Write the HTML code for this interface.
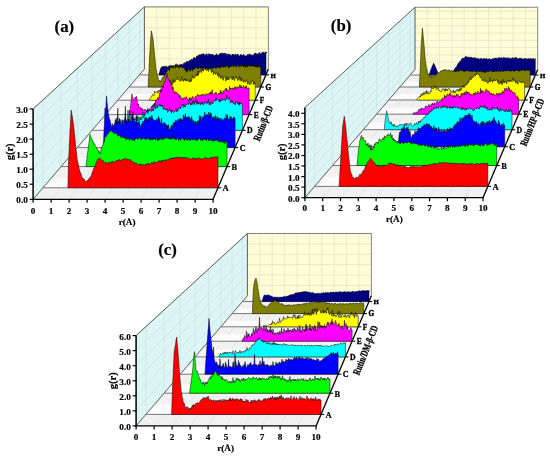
<!DOCTYPE html>
<html><head><meta charset="utf-8"><title>Radial distribution functions</title>
<style>
html,body{margin:0;padding:0;background:#fff;}
svg{display:block}
text{font-family:"Liberation Serif",serif;font-weight:bold;fill:#000;stroke:#000;stroke-width:0.18px}
.tk{font-size:9.2px}
.al{font-size:9.2px}
.zl{font-size:10.3px;stroke-width:0.3px}
.tt{font-size:16.8px}
</style></head><body>
<svg width="550" height="456" viewBox="0 0 550 456">
<rect width="550" height="456" fill="#fff"/>
<polygon points="33.1,199.3 33.1,109 144.4,6.9 144.4,69.1" fill="#ddf6f5"/>
<line x1="33.1" y1="184.2" x2="144.4" y2="58.8" stroke="#c6e2e4" stroke-width="0.7"/>
<line x1="33.1" y1="169.2" x2="144.4" y2="48.4" stroke="#c6e2e4" stroke-width="0.7"/>
<line x1="33.1" y1="154.2" x2="144.4" y2="38" stroke="#c6e2e4" stroke-width="0.7"/>
<line x1="33.1" y1="139.1" x2="144.4" y2="27.7" stroke="#c6e2e4" stroke-width="0.7"/>
<line x1="33.1" y1="124.1" x2="144.4" y2="17.3" stroke="#c6e2e4" stroke-width="0.7"/>
<line x1="33.1" y1="109" x2="144.4" y2="6.9" stroke="#c6e2e4" stroke-width="0.7"/>
<line x1="42.9" y1="187.8" x2="42.9" y2="100" stroke="#c6e2e4" stroke-width="0.7"/>
<line x1="61" y1="166.6" x2="61" y2="83.4" stroke="#c6e2e4" stroke-width="0.7"/>
<line x1="77.3" y1="147.6" x2="77.3" y2="68.4" stroke="#c6e2e4" stroke-width="0.7"/>
<line x1="92.1" y1="130.3" x2="92.1" y2="54.9" stroke="#c6e2e4" stroke-width="0.7"/>
<line x1="105.6" y1="114.6" x2="105.6" y2="42.5" stroke="#c6e2e4" stroke-width="0.7"/>
<line x1="117.9" y1="100.2" x2="117.9" y2="31.3" stroke="#c6e2e4" stroke-width="0.7"/>
<line x1="129.1" y1="87" x2="129.1" y2="20.9" stroke="#c6e2e4" stroke-width="0.7"/>
<line x1="139.5" y1="74.9" x2="139.5" y2="11.4" stroke="#c6e2e4" stroke-width="0.7"/>
<polygon points="144.4,69.1 144.4,6.9 268.4,6.9 268.4,69.1" fill="#fefdd8"/>
<line x1="144.4" y1="58.8" x2="268.4" y2="58.8" stroke="#e4e3bf" stroke-width="0.7"/>
<line x1="144.4" y1="48.4" x2="268.4" y2="48.4" stroke="#e4e3bf" stroke-width="0.7"/>
<line x1="144.4" y1="38" x2="268.4" y2="38" stroke="#e4e3bf" stroke-width="0.7"/>
<line x1="144.4" y1="27.7" x2="268.4" y2="27.7" stroke="#e4e3bf" stroke-width="0.7"/>
<line x1="144.4" y1="17.3" x2="268.4" y2="17.3" stroke="#e4e3bf" stroke-width="0.7"/>
<line x1="144.4" y1="6.9" x2="268.4" y2="6.9" stroke="#e4e3bf" stroke-width="0.7"/>
<line x1="156.8" y1="69.1" x2="156.8" y2="6.9" stroke="#e4e3bf" stroke-width="0.7"/>
<line x1="169.2" y1="69.1" x2="169.2" y2="6.9" stroke="#e4e3bf" stroke-width="0.7"/>
<line x1="181.6" y1="69.1" x2="181.6" y2="6.9" stroke="#e4e3bf" stroke-width="0.7"/>
<line x1="194" y1="69.1" x2="194" y2="6.9" stroke="#e4e3bf" stroke-width="0.7"/>
<line x1="206.4" y1="69.1" x2="206.4" y2="6.9" stroke="#e4e3bf" stroke-width="0.7"/>
<line x1="218.8" y1="69.1" x2="218.8" y2="6.9" stroke="#e4e3bf" stroke-width="0.7"/>
<line x1="231.2" y1="69.1" x2="231.2" y2="6.9" stroke="#e4e3bf" stroke-width="0.7"/>
<line x1="243.6" y1="69.1" x2="243.6" y2="6.9" stroke="#e4e3bf" stroke-width="0.7"/>
<line x1="256" y1="69.1" x2="256" y2="6.9" stroke="#e4e3bf" stroke-width="0.7"/>
<polygon points="33.1,199.3 144.4,69.1 268.4,69.1 213.1,199.3" fill="#f1f1f1"/>
<line x1="51.1" y1="199.3" x2="156.8" y2="69.1" stroke="#dedede" stroke-width="0.7"/>
<line x1="69.1" y1="199.3" x2="169.2" y2="69.1" stroke="#dedede" stroke-width="0.7"/>
<line x1="87.1" y1="199.3" x2="181.6" y2="69.1" stroke="#dedede" stroke-width="0.7"/>
<line x1="105.1" y1="199.3" x2="194" y2="69.1" stroke="#dedede" stroke-width="0.7"/>
<line x1="123.1" y1="199.3" x2="206.4" y2="69.1" stroke="#dedede" stroke-width="0.7"/>
<line x1="141.1" y1="199.3" x2="218.8" y2="69.1" stroke="#dedede" stroke-width="0.7"/>
<line x1="159.1" y1="199.3" x2="231.2" y2="69.1" stroke="#dedede" stroke-width="0.7"/>
<line x1="177.1" y1="199.3" x2="243.6" y2="69.1" stroke="#dedede" stroke-width="0.7"/>
<line x1="195.1" y1="199.3" x2="256" y2="69.1" stroke="#dedede" stroke-width="0.7"/>
<polygon points="42.9,187.8 218,187.8 222.2,178 51.3,178" fill="#fbfbfb"/>
<polygon points="61,166.6 227,166.6 230.7,157.8 68.6,157.8" fill="#fbfbfb"/>
<polygon points="77.3,147.6 235.1,147.6 238.5,139.6 84.2,139.6" fill="#fbfbfb"/>
<polygon points="92.1,130.3 242.4,130.3 245.5,123 98.3,123" fill="#fbfbfb"/>
<polygon points="105.6,114.6 249.1,114.6 251.9,107.9 111.2,107.9" fill="#fbfbfb"/>
<polygon points="117.9,100.2 255.2,100.2 257.8,94.1 123.1,94.1" fill="#fbfbfb"/>
<polygon points="129.1,87 260.8,87 263.2,81.4 133.9,81.4" fill="#fbfbfb"/>
<polygon points="139.5,74.9 266,74.9 268.2,69.7 143.9,69.7" fill="#fbfbfb"/>
<polygon points="33.1,199.3 33.1,109 144.4,6.9 144.4,69.1" fill="none" stroke="#333" stroke-width="0.8"/>
<polyline points="144.4,6.9 268.4,6.9 268.4,69.1" fill="none" stroke="#555" stroke-width="0.7"/>
<line x1="139.5" y1="74.9" x2="266" y2="74.9" stroke="#777" stroke-width="1"/>
<polygon points="159,74.9 159,74 159.5,72.3 160,71 160.5,68.6 161,67.8 161.5,67.3 162,66.6 162.5,67.4 162.9,66.3 163.4,67.1 163.9,66.2 164.4,66.1 164.9,66.8 165.4,67.6 165.8,65.9 166.3,66 166.8,66.9 167.3,67.6 167.8,66.7 168.3,66.2 168.8,67.6 169.3,65.3 169.8,67.2 170.3,65.8 170.8,65.5 171.3,65.4 171.9,65.8 172.4,67 172.9,65.4 173.4,66.4 173.9,66.5 174.4,65.8 174.9,66.2 175.4,65 175.9,65 176.4,65.3 176.9,66.3 177.4,65.5 177.9,65.1 178.4,65.5 178.9,65.1 179.4,64.5 179.9,65.5 180.4,65.1 180.9,63.9 181.5,64.5 182,64.2 182.5,64.9 183,64.4 183.5,63.2 184,64.7 184.5,62.4 185,63 185.5,63.6 186,61.8 186.5,62.3 187,60.9 187.5,62.1 188,62 188.5,61.3 189,61.7 189.5,60 190,60.6 190.5,60 191,59.7 191.5,59.1 192,59.8 192.5,59.8 193,58.5 193.5,58.7 193.9,57 194.4,58.3 194.9,57.9 195.4,58.5 195.9,57.8 196.4,56.3 196.9,56.3 197.4,56.8 197.9,55.1 198.5,55.9 199,55 199.5,54.7 200,54.3 200.5,55.8 201,54.1 201.5,54.2 202.1,54.3 202.6,55.3 203.1,53.2 203.6,53.9 204.1,54.2 204.6,55 205.1,54.9 205.6,55.1 206.1,53.7 206.6,54.1 207.1,54 207.6,55.4 208.1,55.6 208.7,53.7 209.2,53.8 209.7,54 210.2,54.1 210.7,54.7 211.2,55 211.7,54.3 212.2,53.8 212.7,54.8 213.2,54.6 213.7,55 214.2,55.9 214.7,55.2 215.2,54.8 215.7,54.9 216.2,55 216.7,53.5 217.2,55.5 217.8,55.1 218.3,55.3 218.8,55 219.3,54 219.8,54 220.3,53.2 220.8,54.4 221.3,53 221.8,53 222.3,53.4 222.8,53.3 223.3,53.8 223.8,53.1 224.4,53.1 224.9,53.5 225.4,53.4 225.9,54.1 226.4,53.4 226.9,55.5 227.4,54.9 227.9,53.8 228.4,54.1 229,54.4 229.5,54.5 230,54 230.5,55.8 231,56.2 231.5,54.9 232,55 232.5,54 233,54 233.5,54.6 234,54.4 234.5,55.8 235,54.2 235.5,53.9 236,56.1 236.5,55.1 237,54.2 237.5,55.1 238,53.9 238.5,55.1 239,56.1 239.5,55.9 240,55.5 240.5,54.4 241,54.7 241.5,54.2 242,55.7 242.5,55.1 243,55.7 243.5,54.6 244,54.3 244.5,55.7 245,56.2 245.5,55.8 246,55.7 246.5,55.8 247,55.6 247.5,54.3 248,55 248.5,54.7 249,53.9 249.5,53.9 250,54.5 250.5,54.3 251,55.3 251.5,55.8 252,54.5 252.5,55.5 253,55.6 253.5,55.4 254,53.9 254.5,53.4 255,53.3 255.5,53.2 256,53.1 256.5,54 257,54.6 257.5,54.3 258,53.4 258.5,53.7 259,53.9 259.5,52.1 260,53.4 260.5,53.9 261,53.5 261.5,53.4 262,52.6 262.5,51.8 263,53.2 263.6,52.1 264.1,53.1 264.6,53.4 265.1,52 265.6,51.9 266.1,53.1 266.6,52 266,52 266,74.9" fill="#000080" stroke="#000" stroke-width="0.5" stroke-linejoin="round"/>
<line x1="129.1" y1="87" x2="260.8" y2="87" stroke="#777" stroke-width="1"/>
<polygon points="148.2,87 148.2,86 148.6,77.7 149,69.3 149.4,61.1 149.8,52.9 150.2,46.3 150.6,39.7 151,35.3 151.4,30.9 152,33.5 152.5,36.6 153.1,39.8 153.5,43.7 154,48.4 154.4,53 154.9,58.3 155.5,63.8 156,69.1 156.5,70.4 156.9,72.8 157.4,75.5 157.9,76.8 158.3,79.2 158.8,80.2 159.4,80.3 159.9,81.4 160.4,80.8 161,81.7 161.5,80 162,78.7 162.6,77.6 163.1,76.8 163.6,76.8 164.1,77 164.7,74.7 165.2,74.7 165.7,72.1 166.2,70.4 166.8,72.4 167.3,69.1 167.8,68.8 168.4,69.4 168.9,68.9 169.4,70.9 169.9,67.1 170.5,68.2 171,66.5 171.5,67.3 172,66.6 172.5,68 173,65.6 173.5,68.4 173.9,65.6 174.4,65.3 174.9,65.2 175.4,68.6 175.9,63.8 176.4,67.1 176.9,63.8 177.4,64.7 177.9,67.8 178.4,65.8 178.9,65.9 179.3,67.6 179.8,68.2 180.3,66 180.8,66.9 181.3,65.9 181.8,67.8 182.3,67.9 182.8,67.7 183.3,67.2 183.8,67.4 184.3,68.6 184.8,69.5 185.3,69.5 185.8,71.3 186.3,70.2 186.8,72.3 187.3,71.8 187.8,71 188.3,69.5 188.8,68.7 189.4,69.1 189.9,71.4 190.4,70.7 190.9,69.1 191.4,68.9 191.9,69.1 192.4,71.3 193,68.9 193.5,69 194,68 194.5,69.4 195,68.5 195.5,67.7 196,67.8 196.5,67.1 197,68 197.5,68.6 198,68.8 198.5,69.2 199,67.6 199.5,67 200,66.9 200.5,68.7 201,68.4 201.5,67 202,67.9 202.5,68.6 203,68.2 203.5,68.5 204,67.3 204.5,66.8 205,68.3 205.5,68.5 206,67.3 206.5,68.9 207,68.5 207.5,67.6 208,67.7 208.5,68.2 209,69.6 209.5,68.3 210,68.9 210.5,68.7 211,67.3 211.6,68.8 212.1,68.4 212.6,67.8 213.1,68.6 213.6,67.7 214.1,68 214.6,67.3 215.1,67.4 215.6,68.3 216.2,68.5 216.7,67.7 217.2,67.2 217.7,67.2 218.2,67 218.7,67.6 219.2,67.6 219.7,68 220.2,68.4 220.7,65.7 221.2,67.3 221.7,66.5 222.2,66.9 222.8,66 223.3,66.7 223.8,67.7 224.3,66.5 224.8,66.8 225.3,67.2 225.8,66.7 226.3,64.2 226.8,66.2 227.3,66 227.8,66.2 228.3,68.1 228.8,67.6 229.3,67.9 229.8,66.8 230.3,65.3 230.9,66.4 231.4,67 231.9,65.2 232.4,65.4 232.9,66 233.4,67.1 233.9,65.7 234.4,65.8 234.9,65.7 235.4,65.4 235.9,66.2 236.4,67.4 237,65.7 237.5,64.9 238,64.9 238.5,65.4 239,67.2 239.5,65.8 240,66.1 240.5,65 241,66.6 241.5,66.4 242,65.1 242.5,65.2 243,65.8 243.5,67 244,63.4 244.5,67.2 245,65.6 245.5,67.3 246,67.1 246.5,65 247,66.1 247.5,67.3 248,66.4 248.5,65.9 249,64.6 249.5,65.2 250,66.4 250.5,64.9 251,66.5 251.5,64.1 252,66.4 252.5,65.4 253,64.8 253.5,66.2 254,66.8 254.5,66.3 255,65.7 255.5,67.1 256,65.1 256.5,67.1 257,65.9 257.5,68 258,65.3 258.5,66.5 259,65.9 259.5,67.6 260,66 260.5,66.4 261,67 260.8,67 260.8,87" fill="#808000" stroke="#000" stroke-width="0.5" stroke-linejoin="round"/>
<line x1="117.9" y1="100.2" x2="255.2" y2="100.2" stroke="#777" stroke-width="1"/>
<polygon points="149,100.2 149,100 149.5,99.4 150,99 150.5,97.3 151,96.8 151.5,97 152,95.2 152.5,94.3 153,94.6 153.5,95.9 154,96 154.5,91 155,93 155.5,92.8 156,92.3 156.5,91.9 157,92.2 157.5,91.1 158,93.3 158.5,90.4 159,91 159.5,90 160,91.7 160.5,92 161,88.5 161.5,91.9 162,91 162.5,89 163,91.1 163.5,87.9 164,87.8 164.5,86.1 165,89.4 165.5,88.6 166,86.9 166.5,88.4 167,85.3 167.5,85.8 168,84.2 168.5,86.1 169,85.8 169.5,83.7 170,83.4 170.5,80.3 171,82.3 171.5,83.4 172.1,84.8 172.6,84.5 173.1,79.5 173.6,82.8 174.1,80.7 174.6,81.9 175.1,82.2 175.6,79.7 176,79.8 176.5,79.8 177,78.9 177.5,76.8 178,79.8 178.5,79.2 179,79.7 179.5,81 180,80.8 180.5,81.2 181.1,81 181.6,76.4 182.1,80.6 182.6,79.8 183.1,80.2 183.6,81.6 184.1,79 184.6,80.2 185.1,78.6 185.6,81.1 186.1,78.8 186.5,80.8 187,79.6 187.5,80.8 188,80.5 188.5,81.1 189,81.8 189.5,79.8 190,82.2 190.5,80.4 191,79.5 191.5,81.5 192,78 192.5,75.7 193,78.3 193.5,77.9 194,77.8 194.5,77.9 195,77.4 195.5,76.1 196,74.7 196.5,75.7 197,73.5 197.5,75.8 198,70.7 198.5,75.5 199,71.2 199.5,72.1 200,72.5 200.5,70.4 201,70.4 201.5,72.7 202,68.9 202.5,70.9 203,69.1 203.5,71.3 204,68.3 204.5,69.1 205,68.2 205.5,69.7 206,68.9 206.5,70.2 207,70.7 207.5,68.6 208,70.3 208.5,71.6 209,69.5 209.5,68.3 210,69.4 210.5,69.8 211,69.7 211.5,72.8 212,70 212.5,71.6 213,70.8 213.5,74.7 213.9,71.8 214.4,73 214.9,73.2 215.4,74.6 215.9,72.7 216.4,73 216.9,72.7 217.4,75.9 217.9,75 218.4,72.9 218.9,77.6 219.3,75.8 219.8,74.6 220.3,77.3 220.8,78.7 221.3,77.7 221.8,75.9 222.3,78.4 222.8,79.4 223.3,80.4 223.8,77.7 224.3,76.4 224.8,76.6 225.3,77.7 225.8,81.2 226.3,79.9 226.8,76.7 227.3,80 227.8,79.5 228.3,77.7 228.8,80 229.4,77.7 229.9,77.9 230.4,77.9 230.9,76.6 231.4,77.6 231.9,79.5 232.4,80.1 233,76.1 233.5,79 234,79.3 234.5,80.6 235,77.6 235.5,76.7 236,78.4 236.5,76.9 237,76.8 237.5,80.6 238,79.7 238.5,79.9 239,77.9 239.5,76.3 240,80.8 240.5,77.5 241,81 241.5,81.2 242,78.5 242.5,78.5 243,81.9 243.5,82.5 244,80.1 244.5,81.1 245,81.7 245.5,82.4 246,80.7 246.5,79.9 247,80.9 247.5,84.2 248,81.4 248.5,81.5 249,84.2 249.5,83.3 250,84.6 250.5,84 251,84.2 251.5,83.6 252,80.2 252.5,80.8 253,80.9 253.5,84.8 254,81.2 254.5,83.8 255,83 255.2,83 255.2,100.2" fill="#ffff00" stroke="#000" stroke-width="0.5" stroke-linejoin="round"/>
<line x1="105.6" y1="114.6" x2="249.1" y2="114.6" stroke="#777" stroke-width="1"/>
<polygon points="129.6,114.6 129.6,114 130.2,108.8 130.8,103.9 131.4,99.4 131.9,93.8 132.4,97 133,98 133.5,100.1 134,100.7 134.5,99.9 135,97.2 135.5,97.9 136,96.7 136.5,96.3 137,98.9 137.5,103.1 138,105.1 138.5,103.9 139,106.5 139.5,107.5 140,107 140.5,107.4 141,107.7 141.5,110.1 142,108.2 142.5,110 143,109.4 143.5,110.2 144,110.3 144.5,109.1 145,109.7 145.5,109.4 146,111.2 146.5,110.9 147,110.1 147.5,110 148,108.3 148.5,111.3 149,109.6 149.5,108.7 150,109.1 150.5,109.3 151,107.5 151.5,106.3 152,107.6 152.5,105.3 153,107 153.5,104 154,106.5 154.5,103 155,104.3 155.5,100.7 156,101.3 156.5,99.8 157,99.2 157.5,98.4 158,97.2 158.5,99.8 159,97.4 159.6,93.6 160.1,90.8 160.6,90.1 161.1,92.4 161.7,89.7 162.2,86.5 162.7,86.5 163.2,87.6 163.6,84.6 164.1,82.4 164.5,82.5 165,81.4 165.5,80.4 166,78.1 166.5,75.5 167,73.4 167.5,77.5 168,78.1 168.5,78.4 169,80.6 169.5,81.9 170,80.4 170.5,84.4 171,83.9 171.5,82.9 172,84.7 172.5,89.4 173,86.9 173.5,89.9 174,90.9 174.5,93.2 175,92.1 175.5,91.7 176,92.8 176.4,92.2 176.9,92.8 177.4,93.1 177.9,94.4 178.4,94.5 178.9,94.4 179.4,97.4 179.9,95.2 180.3,95.9 180.8,97.9 181.3,97.8 181.8,97.9 182.3,99.5 182.8,98.5 183.3,99.3 183.8,97.6 184.3,97.2 184.8,98.2 185.3,98 185.8,98.1 186.3,96.6 186.8,98.5 187.3,98.8 187.8,99.2 188.3,99.9 188.8,100.8 189.3,97.6 189.8,100.6 190.2,97.7 190.7,99.4 191.2,100.5 191.7,97.6 192.2,97.7 192.7,96.2 193.2,97.6 193.7,98.5 194.2,98.5 194.7,98.7 195.2,96.3 195.7,97.3 196.2,96.7 196.7,96.9 197.2,94.5 197.7,94.6 198.2,94.7 198.7,95.9 199.2,95.3 199.7,95.5 200.1,96.1 200.6,94.9 201.1,95.6 201.6,94.3 202.1,95.6 202.6,94.2 203.1,94.7 203.6,94.5 204,94.9 204.5,95.6 205,94 205.5,94.1 206,93.7 206.5,95.1 207,95 207.6,93.8 208.1,93.7 208.6,94.2 209.1,93 209.6,92.8 210.1,94 210.6,91.8 211.2,94.8 211.7,91.7 212.2,89.6 212.7,93.6 213.2,94.3 213.7,93.7 214.2,93.9 214.7,93.8 215.2,92.5 215.7,93.5 216.2,92.2 216.7,94.8 217.2,94.4 217.7,95.1 218.2,94.2 218.7,93.1 219.2,93 219.7,94 220.2,91.8 220.7,89.9 221.1,93.3 221.6,91.9 222.1,93.1 222.6,94.3 223.1,90.8 223.6,91.2 224.1,90.3 224.6,90.4 225.1,90.1 225.6,88.5 226.1,90.1 226.5,88.1 227,91.3 227.5,89.8 228,90.8 228.5,91.3 229,91.2 229.5,86.3 230,89.7 230.5,88.2 231,88.2 231.5,89.1 232,87.7 232.5,88.1 233,88.9 233.5,87.9 234,89.7 234.5,88.2 235,86.3 235.5,88.5 236,87 236.5,89.2 237,87.7 237.5,86.9 238,86.6 238.5,87.3 239,87.9 239.5,84.8 240,86.2 240.5,87.7 241,85 241.5,87.8 242,87 242.5,88 243,87.5 243.5,85.2 244,86.5 244.5,88.5 245,87.4 245.5,86.5 246,88.2 246.5,85.6 247,88.5 247.5,87.9 248,89.1 248.5,87.8 249,88 249.1,88 249.1,114.6" fill="#ff00ff" stroke="#000" stroke-width="0.5" stroke-linejoin="round"/>
<line x1="92.1" y1="130.3" x2="242.4" y2="130.3" stroke="#777" stroke-width="1"/>
<polygon points="115.7,130.3 115.7,130 116.1,128.6 116.6,124.6 117,121 117.5,122.9 118,122 118.5,123.5 119,121 119.5,123.8 120,119.4 120.5,120.6 121,123.5 121.5,121.8 122,120.5 122.5,122.2 123,122.5 123.5,120.4 124,119.8 124.5,123.2 125,119.7 125.5,118 126,122.4 126.5,120.4 127,119.6 127.5,119.6 128,109.9 128.5,117 129,122.7 129.5,110.3 130,122.4 130.5,120.4 131,113.3 131.5,118.6 132,119.8 132.5,118.9 133,111.2 133.5,120.2 134,118.9 134.5,118.4 135,120.1 135.5,120 136,116.4 136.5,118.9 137,115.5 137.5,120.9 138,116.2 138.5,116.8 139,120.6 139.5,117.4 140,117.5 140.5,120 141,116.4 141.5,119.5 142,119 142.5,112.7 143,112 143.5,117.9 144,117.2 144.5,114.2 145,115.6 145.5,112.6 146,113 146.5,110.6 147,112.3 147.5,109.9 148,113.9 148.4,110.7 148.9,111.1 149.4,110.8 149.9,110.5 150.4,111 150.9,111.1 151.4,111.7 151.9,109.6 152.4,111.1 152.9,109.3 153.4,110.8 153.9,109.2 154.4,106.6 154.9,103.1 155.4,109.3 155.9,108.5 156.4,105.9 156.9,105.6 157.4,108 157.9,105 158.5,105.5 159,104.7 159.5,104.1 160,106.8 160.5,104.6 161,105.8 161.5,105 162.1,106.7 162.6,104.8 163.1,109.5 163.6,108.9 164.1,107.7 164.6,109.1 165.1,110 165.6,109 166.1,109 166.5,110 167,108.7 167.5,112.6 168,111.6 168.5,110.8 169,111.1 169.5,107.7 170,110.3 170.5,111.4 171,110 171.5,113.4 172,109.9 172.5,110.7 172.9,111.7 173.4,112.4 173.9,112 174.4,112 174.9,112 175.4,109.7 175.9,108.5 176.4,110.9 176.9,112.1 177.4,109.5 177.9,111.1 178.4,108.6 178.9,108.6 179.3,107.6 179.8,108.4 180.3,107.1 180.8,108.9 181.3,105.9 181.8,105.3 182.3,104 182.8,105.6 183.3,107.5 183.8,104.5 184.3,107.1 184.8,105.5 185.3,106.8 185.8,104.9 186.3,104.6 186.8,105 187.3,103.4 187.8,103.3 188.3,104.5 188.8,102 189.4,103.1 189.9,103.7 190.4,105.2 190.9,102.9 191.4,105.1 191.9,103 192.4,101.4 193,104.7 193.5,99.8 194,103.2 194.5,104.4 195,101.1 195.5,102.5 196,99.2 196.4,103 196.9,104.7 197.4,100.7 197.9,103.9 198.4,102.6 198.9,104.3 199.4,102 199.9,103.2 200.3,103.6 200.8,105.2 201.3,102.3 201.8,104 202.3,101.8 202.8,104.6 203.3,104.4 203.9,104.3 204.4,104.1 204.9,101.8 205.4,101.5 205.9,103.5 206.4,103 206.9,101.3 207.5,103.5 208,102.9 208.5,99.2 209,104.7 209.5,104.8 210,102.1 210.5,104.8 211,104.6 211.5,102.1 212,101.3 212.5,103.9 212.9,103.5 213.4,100.7 213.9,100.7 214.4,101 214.9,100.1 215.4,101.2 215.9,97.1 216.4,100.8 216.9,100 217.4,98 217.9,98.3 218.4,99.4 218.9,101 219.3,102.3 219.8,99.4 220.3,101.7 220.8,99.6 221.3,100.6 221.8,98.1 222.3,99.4 222.8,100.7 223.3,99.2 223.8,98.9 224.3,98.5 224.8,100.1 225.3,101 225.8,100.4 226.3,98.9 226.8,95.2 227.3,98.7 227.8,98.1 228.4,99.5 228.9,98.5 229.4,97.2 229.9,99.9 230.5,102.8 231,103 231.5,100.1 232,99.9 232.5,102.8 233,101.9 233.5,103.4 234,104.2 234.5,103.2 235,104.9 235.5,104 236,101 236.5,102 237,101.6 237.5,104 238,102.8 238.4,104.8 238.9,102 239.4,105.4 239.9,102.5 240.4,104.2 240.9,103 241.4,103.5 241.9,103.7 242.4,105 242.4,105 242.4,130.3" fill="#00ffff" stroke="#000" stroke-width="0.5" stroke-linejoin="round"/>
<line x1="77.3" y1="147.6" x2="235.1" y2="147.6" stroke="#777" stroke-width="1"/>
<polygon points="103.4,147.6 103.4,147 103.9,134.1 104.5,120.7 105,107.9 105.7,112.2 106.1,104.6 106.5,95.9 107,101.6 107.5,106.6 108,111.1 108.5,115 109,116.7 109.4,119.3 109.9,119.3 110.4,122.1 110.9,123.8 111.5,126.1 112,128.8 112.5,123.6 113,126.8 113.5,125.6 114,125.8 114.5,123.6 114.9,122.6 115.4,119.5 115.9,124.1 116.4,118 116.8,121.3 117.3,121.5 117.8,108.2 118.3,123.7 118.8,123.8 119.3,118.3 119.8,119.6 120.3,122.2 120.9,124.2 121.4,124.6 121.9,123.3 122.4,119.6 122.9,124.6 123.4,125.2 123.9,121.1 124.4,120.5 124.9,117.3 125.4,106.3 126,123.7 126.5,120.6 127,121.1 127.5,122.1 128,119.3 128.5,121.5 129,119.3 129.5,123.9 130,124.1 130.5,121 131,121.1 131.5,122.2 132,116.5 132.5,114.5 133,122 133.5,122.8 134,117.7 134.5,121 135,121 135.5,122.8 136,121.6 136.5,115.7 137,125 137.5,121.8 138,122.6 138.5,123.3 139,120.4 139.5,123.2 140,125.2 140.5,127.2 141,125.5 141.5,123.6 142,125.6 142.5,122.7 143,120.9 143.5,121.9 144,121.5 144.5,120.4 145,117.4 145.5,120.7 146,117.1 146.5,121.5 147,118.2 147.5,119.9 148,121.6 148.4,117.6 148.9,118.7 149.4,118.4 149.9,116.5 150.4,119.1 150.9,116.7 151.4,116.9 151.9,115.3 152.4,118.1 152.9,119.3 153.4,119.4 153.9,120.7 154.4,119.9 154.9,120.7 155.4,120.4 155.9,120.7 156.4,119.5 156.9,118.5 157.4,122.2 157.9,119.4 158.5,116.2 159,120.5 159.5,118.3 160,122.1 160.5,123.5 161,123.7 161.5,118 162,124.8 162.5,124.1 163,123.2 163.5,125.5 164,122.2 164.5,123.2 165,123.3 165.5,123.6 166,127.3 166.5,124.6 167,128.8 167.5,125 168,129.4 168.5,124.4 169,130.4 169.5,129.2 170.1,129.3 170.6,127.4 171.1,125.3 171.6,125.1 172.2,126.3 172.7,127.3 173.2,122.5 173.8,125.5 174.3,122.2 174.8,124.6 175.3,120.2 175.9,120.2 176.4,120.6 176.9,121.2 177.4,121.3 177.9,119.5 178.4,119 178.9,121.2 179.3,118.8 179.8,121.8 180.3,118.2 180.8,121.1 181.3,118.7 181.8,119.9 182.3,120.9 182.8,119.6 183.3,114.8 183.8,115.2 184.3,116.9 184.8,119.3 185.3,113.6 185.8,116.7 186.3,117.9 186.8,117 187.3,117.5 187.8,117.3 188.3,116.2 188.8,118.1 189.3,116.8 189.8,118.8 190.2,121.6 190.7,118.5 191.2,119 191.7,116.4 192.2,121.4 192.7,121.3 193.2,119.6 193.8,123.3 194.3,123.1 194.8,121.1 195.3,122.4 195.9,121.1 196.4,123.5 196.9,123.1 197.4,121 197.9,121.4 198.4,120.4 198.9,123.8 199.3,115.3 199.8,118.4 200.3,118.8 200.8,115.7 201.3,117.9 201.8,121.5 202.3,121 202.8,116.6 203.3,119.9 203.8,116 204.3,116.6 204.8,112.1 205.3,116.4 205.8,115.1 206.3,114.9 206.8,114.8 207.3,114.3 207.8,114.8 208.3,116.1 208.8,112 209.3,118.1 209.8,114.3 210.2,112.5 210.7,116.1 211.2,113.4 211.7,117.4 212.2,117 212.7,119.1 213.2,118 213.7,116.3 214.2,119.6 214.7,116.9 215.2,115.9 215.7,115.4 216.2,120 216.7,118.6 217.2,116.6 217.7,120.1 218.2,118.1 218.7,117.8 219.2,119 219.7,118.4 220.2,120.6 220.7,119.5 221.1,117.8 221.6,120.3 222.1,120.3 222.6,119.5 223.1,120.3 223.6,120.1 224.1,118.1 224.6,118.2 225.1,119.1 225.6,119.3 226.1,114.4 226.5,119.1 227,119.1 227.5,114.6 228,118.6 228.5,120.3 229,119 229.5,120.2 230,115.9 230.5,116.7 231,120.1 231.5,116.9 232,121 232.5,118.4 233,120 233.5,116.9 234,118 234.5,117.3 235,118.6 235.1,118.6 235.1,147.6" fill="#0000ff" stroke="#000" stroke-width="0.5" stroke-linejoin="round"/>
<line x1="61" y1="166.6" x2="227" y2="166.6" stroke="#777" stroke-width="1"/>
<polygon points="86,166.6 86,166 86.5,162 87,158 87.5,154 88,150 88.5,146.1 89,142.6 89.5,139 90,134.6 90.5,136 91,136.9 91.5,138.6 92,139.2 92.5,140.8 93,141 93.5,143.5 94,144.5 94.5,143.5 95,145.1 95.5,146.2 96,146.8 96.5,147.6 97,149.5 97.5,149.2 98,149.8 98.5,151 99,152.5 99.5,151.6 100,154.2 100.5,152.9 101,149.7 101.5,147 102,147 102.5,147 103,143.3 103.5,142.8 104,142.8 104.5,140.2 105,136.4 105.5,136.5 106,135.8 106.5,136.6 107,134.7 107.5,132.5 108,134.1 108.5,133.7 109,130.7 109.5,131.7 110,131.6 110.5,131 111,130.3 111.5,131 112,131.7 112.5,132.2 113,131.8 113.5,132.2 114,133.7 114.5,133.2 115,133.5 115.5,132.9 116,133.4 116.5,133.5 117,134.1 117.5,135.5 118,135.7 118.5,136.4 119,135.2 119.5,135.3 120.1,135.5 120.6,137.6 121.1,136.7 121.6,136.4 122.1,137.8 122.6,136.7 123.1,137.1 123.6,138.2 124.2,136.8 124.7,137.9 125.2,137.5 125.7,140.2 126.2,137.4 126.7,139.3 127.2,138.3 127.8,139.7 128.3,138.2 128.8,137.9 129.3,140.6 129.8,139.3 130.3,138.8 130.8,139.3 131.3,138.1 131.9,140.5 132.4,139.3 132.9,138.8 133.4,140.5 133.9,139.7 134.4,140.8 134.9,140.6 135.4,137.9 135.9,139 136.4,138.5 136.9,137.5 137.5,137.8 138,139.8 138.5,137.9 139,137.6 139.5,137.6 140,138.2 140.5,138.8 141,139.8 141.5,139.6 142,138.4 142.5,139 143,138 143.5,137.8 144,138.9 144.5,138 145,137.7 145.5,140.1 146,138.6 146.5,139.1 147,139.4 147.5,138.4 148,138.2 148.5,137.9 149,139.4 149.5,139.6 150,138.7 150.5,140.4 151,138.2 151.5,139.8 152,138.1 152.5,140.1 153,139 153.5,139.4 154,138 154.5,139.2 155,138.3 155.5,140.2 156,138.5 156.5,138.1 157,139 157.5,141 158,139.4 158.5,140.2 159,140.1 159.5,138.3 160,140.1 160.5,137.8 161,136.8 161.5,139.3 162,137.6 162.5,139.9 163,139.2 163.5,139.3 164,138.1 164.5,139.1 165,137.5 165.5,138.1 166,136.7 166.5,138.7 167,138.7 167.5,136.9 168,137.1 168.5,139.1 169,138.6 169.5,138.9 170,138.7 170.5,139.2 171,137 171.5,139.4 172,138.7 172.5,138.5 173,135.7 173.5,138.4 174,138.6 174.5,137.9 175,139.9 175.5,137.8 176,139.6 176.5,139.5 177,137.9 177.5,137.7 178,138.2 178.5,140.5 179,138.3 179.5,139.5 180,138.9 180.5,140.6 181,139.3 181.5,138.3 182,136.2 182.5,139.2 183,138.6 183.5,138.2 184,140.5 184.5,139.1 185,140.7 185.5,138.2 186,139.3 186.5,139.1 187,139.9 187.5,139.6 188,140.7 188.5,139.1 189,138.2 189.5,140.1 190,139.3 190.5,140.7 191,139.7 191.5,138.4 192,139.7 192.5,139.1 193,140.2 193.5,138.8 194,138.9 194.5,139.3 195,139.9 195.5,140 196,140.9 196.5,140.1 197,138.5 197.5,140.5 198,138.2 198.5,139.4 199,138.5 199.6,138.2 200.1,139.1 200.6,140.4 201.1,140.3 201.6,138.9 202.1,139.2 202.6,140.9 203.1,138.6 203.6,139.4 204.1,139.9 204.6,137.7 205.1,139.5 205.6,140.1 206.1,139 206.6,140.9 207.1,139.1 207.6,139 208,138.4 208.5,140 209,141.1 209.5,138.2 210,140.6 210.5,139.6 211,138.8 211.5,140.4 212,140.4 212.5,140.9 213,141.5 213.5,139.7 214,141.2 214.4,139.4 214.9,140.5 215.4,141 215.9,139.5 216.4,139.3 216.9,140.7 217.4,141.3 217.9,140.6 218.4,140.2 218.9,141.8 219.4,140 219.8,141.9 220.3,142.4 220.8,142 221.3,141.8 221.8,140.3 222.3,142.2 222.8,140 223.4,142.9 223.9,141.2 224.4,141 224.9,143.8 225.4,142.1 226,141.4 226.5,141.3 227,143 227,143 227,166.6" fill="#00ff00" stroke="#000" stroke-width="0.5" stroke-linejoin="round"/>
<line x1="42.9" y1="187.8" x2="218" y2="187.8" stroke="#777" stroke-width="1"/>
<polygon points="67.9,187.8 67.9,187.5 68.5,162.5 69,152 69.5,141.5 70,131 70.6,120.8 71.2,110.1 71.7,113.4 72.2,115.6 72.7,118.5 73.2,123 73.7,126.7 74.2,130.7 74.7,136.8 75.3,141.8 75.8,148.6 76.4,151.6 76.9,156.9 77.5,161 78,163.1 78.5,164.7 79.1,168.7 79.6,169.9 80.1,172 80.6,173.1 81,173.7 81.5,176 82,177.4 82.5,177.8 83.1,178.1 83.6,178.9 84.1,179.7 84.7,179.6 85.2,181.5 85.7,181.7 86.2,181.2 86.8,181.4 87.3,180.1 87.8,181.2 88.3,179.4 88.8,179.3 89.4,177.8 89.9,177.5 90.4,177.1 91,176.3 91.5,174.9 92,173.3 92.5,171.6 93,170.7 93.6,169 94.1,167.5 94.6,167.2 95.1,165.5 95.6,164.1 96.2,162.5 96.7,162.2 97.2,160 97.7,158.9 98.2,159 98.8,158.7 99.3,158.7 99.8,157.8 100.3,158.9 100.9,159.5 101.4,159.8 101.9,160.5 102.5,159.9 103,160.9 103.5,160.8 104,162.7 104.5,162.7 105,162.8 105.5,162.3 106,162.7 106.5,162.6 107,163.8 107.5,164.3 108,162.8 108.5,162.2 109,162.3 109.5,162.5 110,163.4 110.5,163.1 111,162.3 111.5,161.5 112,161.3 112.5,161.3 113,162.4 113.5,161.6 114,162.5 114.5,162.2 115,161.9 115.5,161.1 116,161.6 116.5,160.2 117,160 117.5,160.7 118,160.5 118.5,159.8 119,159.8 119.5,159.2 120,160.8 120.5,160.3 121,160.6 121.5,160.6 122,159.4 122.5,159.8 123,159 123.5,159.7 124,159.7 124.5,158.4 125,158.2 125.5,158.7 126,159.5 126.5,159.2 127,158.5 127.5,160.2 128,160.2 128.5,159.7 129,158.9 129.5,160.7 130,160.1 130.5,159.5 131,160.3 131.5,161.2 132,162.1 132.5,161.6 133,162.3 133.5,161.8 134,162.2 134.5,163.8 135,163.1 135.5,162.9 136,164.2 136.5,163.3 137,163.5 137.5,164.1 138,164.4 138.5,164.6 139,164.8 139.5,164.3 140,163.7 140.5,165 141,163.8 141.5,164.6 142,164.6 142.5,165.1 143,165.3 143.5,164.4 144,165.3 144.5,165.2 145,164.7 145.5,163.9 146,165.3 146.5,164.6 147,163.4 147.5,163.6 148,164.9 148.5,163.3 149,163.5 149.5,164.2 150,164.1 150.5,163.6 151,163.7 151.5,162.2 152,162.2 152.5,163.8 153,163.4 153.5,161.8 154,161.7 154.5,162 155,163.2 155.5,161.8 156,162.5 156.5,162.9 157,162.3 157.5,162.7 158,161.3 158.5,161 159,160.7 159.5,162 160,160.6 160.5,162.2 161,161.6 161.5,160.5 162,161.6 162.5,160.2 163,160.8 163.5,159.9 164,161.1 164.5,161.1 165,161.1 165.5,159.2 166,160.7 166.5,160 167,160.4 167.5,159.6 168,159.7 168.5,159.6 169,159.8 169.5,158.3 170,158.1 170.5,159 171,158.4 171.5,158.5 172,157.7 172.5,159 173,157.5 173.5,159 174,158.9 174.5,158.1 175,157.3 175.5,158.3 176,157.3 176.5,157.6 177,156.9 177.5,158.5 178,157.6 178.5,157.2 179,156.8 179.5,158 180,158.3 180.5,158.3 181,156.9 181.5,157.5 182,157.4 182.5,158.3 183,157.1 183.5,158.1 184,158.8 184.5,158.4 185,157 185.5,157.1 186,157.2 186.5,158.4 187,158.3 187.5,158.1 188,158 188.5,158 189,158.4 189.5,158.5 190,159.1 190.5,158.7 191,158.9 191.5,159.1 192,159 192.5,158.8 193,157.5 193.5,158.8 194,159.2 194.5,158.4 195,159.3 195.5,157.9 196,159.5 196.5,158.5 197,159 197.5,158.1 198,158.1 198.5,158.2 199,158.1 199.5,157.7 200,158.3 200.5,159.3 201,158.7 201.5,159.2 202,158.9 202.5,159 203,159.3 203.5,158.8 204,157.8 204.5,157.7 205,158 205.5,157.3 206,157.6 206.5,158.9 207,158.9 207.5,157.8 208,158.6 208.5,158.6 209,158.8 209.5,158.6 210,158.1 210.5,157.1 211,158.5 211.5,157.4 212,157.9 212.5,157.3 213,157.5 213.5,158.3 214,156.6 214.5,157.3 215,157.4 215.5,157.1 216,157.8 216.5,156.7 217,157.6 217.5,157.1 218,156.6 218,156.6 218,187.8" fill="#ff0000" stroke="#000" stroke-width="0.5" stroke-linejoin="round"/>
<line x1="33.1" y1="199.9" x2="33.1" y2="109" stroke="#000" stroke-width="1.3"/>
<line x1="29.6" y1="199.3" x2="33.1" y2="199.3" stroke="#000" stroke-width="1.2"/>
<text x="27.8" y="203.2" text-anchor="end" class="tk">0.0</text>
<line x1="29.6" y1="184.2" x2="33.1" y2="184.2" stroke="#000" stroke-width="1.2"/>
<text x="27.8" y="188.2" text-anchor="end" class="tk">0.5</text>
<line x1="29.6" y1="169.2" x2="33.1" y2="169.2" stroke="#000" stroke-width="1.2"/>
<text x="27.8" y="173.1" text-anchor="end" class="tk">1.0</text>
<line x1="29.6" y1="154.2" x2="33.1" y2="154.2" stroke="#000" stroke-width="1.2"/>
<text x="27.8" y="158.1" text-anchor="end" class="tk">1.5</text>
<line x1="29.6" y1="139.1" x2="33.1" y2="139.1" stroke="#000" stroke-width="1.2"/>
<text x="27.8" y="143" text-anchor="end" class="tk">2.0</text>
<line x1="29.6" y1="124.1" x2="33.1" y2="124.1" stroke="#000" stroke-width="1.2"/>
<text x="27.8" y="128" text-anchor="end" class="tk">2.5</text>
<line x1="29.6" y1="109" x2="33.1" y2="109" stroke="#000" stroke-width="1.2"/>
<text x="27.8" y="112.9" text-anchor="end" class="tk">3.0</text>
<line x1="32.5" y1="199.3" x2="213.7" y2="199.3" stroke="#000" stroke-width="1.3"/>
<line x1="33.1" y1="199.3" x2="33.1" y2="202.8" stroke="#000" stroke-width="1.2"/>
<text x="33.1" y="213.8" text-anchor="middle" class="tk">0</text>
<line x1="51.1" y1="199.3" x2="51.1" y2="202.8" stroke="#000" stroke-width="1.2"/>
<text x="51.1" y="213.8" text-anchor="middle" class="tk">1</text>
<line x1="69.1" y1="199.3" x2="69.1" y2="202.8" stroke="#000" stroke-width="1.2"/>
<text x="69.1" y="213.8" text-anchor="middle" class="tk">2</text>
<line x1="87.1" y1="199.3" x2="87.1" y2="202.8" stroke="#000" stroke-width="1.2"/>
<text x="87.1" y="213.8" text-anchor="middle" class="tk">3</text>
<line x1="105.1" y1="199.3" x2="105.1" y2="202.8" stroke="#000" stroke-width="1.2"/>
<text x="105.1" y="213.8" text-anchor="middle" class="tk">4</text>
<line x1="123.1" y1="199.3" x2="123.1" y2="202.8" stroke="#000" stroke-width="1.2"/>
<text x="123.1" y="213.8" text-anchor="middle" class="tk">5</text>
<line x1="141.1" y1="199.3" x2="141.1" y2="202.8" stroke="#000" stroke-width="1.2"/>
<text x="141.1" y="213.8" text-anchor="middle" class="tk">6</text>
<line x1="159.1" y1="199.3" x2="159.1" y2="202.8" stroke="#000" stroke-width="1.2"/>
<text x="159.1" y="213.8" text-anchor="middle" class="tk">7</text>
<line x1="177.1" y1="199.3" x2="177.1" y2="202.8" stroke="#000" stroke-width="1.2"/>
<text x="177.1" y="213.8" text-anchor="middle" class="tk">8</text>
<line x1="195.1" y1="199.3" x2="195.1" y2="202.8" stroke="#000" stroke-width="1.2"/>
<text x="195.1" y="213.8" text-anchor="middle" class="tk">9</text>
<line x1="213.1" y1="199.3" x2="213.1" y2="202.8" stroke="#000" stroke-width="1.2"/>
<text x="213.1" y="213.8" text-anchor="middle" class="tk">10</text>
<line x1="213.1" y1="199.3" x2="268.4" y2="69.1" stroke="#000" stroke-width="1.3"/>
<line x1="218" y1="187.8" x2="221.2" y2="187.8" stroke="#000" stroke-width="1.1"/>
<text x="222.6" y="191.2" class="tk" style="font-size:8.6px;stroke-width:0.2px">A</text>
<line x1="227" y1="166.6" x2="230.2" y2="166.6" stroke="#000" stroke-width="1.1"/>
<text x="231.6" y="169.9" class="tk" style="font-size:8.4px;stroke-width:0.2px">B</text>
<line x1="235.1" y1="147.6" x2="238.3" y2="147.6" stroke="#000" stroke-width="1.1"/>
<text x="239.7" y="150.8" class="tk" style="font-size:8.2px;stroke-width:0.3px">C</text>
<line x1="242.4" y1="130.3" x2="245.6" y2="130.3" stroke="#000" stroke-width="1.1"/>
<text x="247" y="133.4" class="tk" style="font-size:7.8px;stroke-width:0.3px">D</text>
<line x1="249.1" y1="114.6" x2="252.3" y2="114.6" stroke="#000" stroke-width="1.1"/>
<text x="253.7" y="117.6" class="tk" style="font-size:7.6px;stroke-width:0.3px">E</text>
<line x1="255.2" y1="100.2" x2="258.4" y2="100.2" stroke="#000" stroke-width="1.1"/>
<text x="259.8" y="103.1" class="tk" style="font-size:7.4px;stroke-width:0.3px">F</text>
<line x1="260.8" y1="87" x2="264" y2="87" stroke="#000" stroke-width="1.1"/>
<text x="265.4" y="89.8" class="tk" style="font-size:7.2px;stroke-width:0.4px">G</text>
<line x1="266" y1="74.9" x2="269.2" y2="74.9" stroke="#000" stroke-width="1.1"/>
<text x="270.6" y="77.6" class="tk" style="font-size:6.8px;stroke-width:0.4px">H</text>
<text transform="translate(12.6,151.9) rotate(-90)" text-anchor="middle" class="al" style="font-size:10.5px">g(r)</text>
<text x="127.1" y="224.5" text-anchor="middle" class="al">r(Å)</text>
<text transform="translate(266.4,124.5) rotate(-68.5) scale(0.72,1)" text-anchor="middle" class="zl">Rutin/β-CD</text>
<text x="64.4" y="32.2" text-anchor="middle" class="tt">(a)</text>
<polygon points="304.9,197.7 304.9,107.5 415,7.3 415,69.4" fill="#ddf6f5"/>
<line x1="304.9" y1="187.1" x2="415" y2="62.1" stroke="#c6e2e4" stroke-width="0.7"/>
<line x1="304.9" y1="176.6" x2="415" y2="54.9" stroke="#c6e2e4" stroke-width="0.7"/>
<line x1="304.9" y1="166" x2="415" y2="47.6" stroke="#c6e2e4" stroke-width="0.7"/>
<line x1="304.9" y1="155.5" x2="415" y2="40.3" stroke="#c6e2e4" stroke-width="0.7"/>
<line x1="304.9" y1="144.9" x2="415" y2="33.1" stroke="#c6e2e4" stroke-width="0.7"/>
<line x1="304.9" y1="134.4" x2="415" y2="25.8" stroke="#c6e2e4" stroke-width="0.7"/>
<line x1="304.9" y1="123.8" x2="415" y2="18.5" stroke="#c6e2e4" stroke-width="0.7"/>
<line x1="304.9" y1="113.3" x2="415" y2="11.2" stroke="#c6e2e4" stroke-width="0.7"/>
<line x1="314.6" y1="186.4" x2="314.6" y2="98.7" stroke="#c6e2e4" stroke-width="0.7"/>
<line x1="332.5" y1="165.5" x2="332.5" y2="82.3" stroke="#c6e2e4" stroke-width="0.7"/>
<line x1="348.7" y1="146.7" x2="348.7" y2="67.7" stroke="#c6e2e4" stroke-width="0.7"/>
<line x1="363.3" y1="129.7" x2="363.3" y2="54.3" stroke="#c6e2e4" stroke-width="0.7"/>
<line x1="376.6" y1="114.2" x2="376.6" y2="42.2" stroke="#c6e2e4" stroke-width="0.7"/>
<line x1="388.7" y1="100" x2="388.7" y2="31.2" stroke="#c6e2e4" stroke-width="0.7"/>
<line x1="399.9" y1="87" x2="399.9" y2="21" stroke="#c6e2e4" stroke-width="0.7"/>
<line x1="410.1" y1="75" x2="410.1" y2="11.7" stroke="#c6e2e4" stroke-width="0.7"/>
<polygon points="415,69.4 415,7.3 537.7,7.3 537.7,69.4" fill="#fefdd8"/>
<line x1="415" y1="62.1" x2="537.7" y2="62.1" stroke="#e4e3bf" stroke-width="0.7"/>
<line x1="415" y1="54.9" x2="537.7" y2="54.9" stroke="#e4e3bf" stroke-width="0.7"/>
<line x1="415" y1="47.6" x2="537.7" y2="47.6" stroke="#e4e3bf" stroke-width="0.7"/>
<line x1="415" y1="40.3" x2="537.7" y2="40.3" stroke="#e4e3bf" stroke-width="0.7"/>
<line x1="415" y1="33.1" x2="537.7" y2="33.1" stroke="#e4e3bf" stroke-width="0.7"/>
<line x1="415" y1="25.8" x2="537.7" y2="25.8" stroke="#e4e3bf" stroke-width="0.7"/>
<line x1="415" y1="18.5" x2="537.7" y2="18.5" stroke="#e4e3bf" stroke-width="0.7"/>
<line x1="415" y1="11.2" x2="537.7" y2="11.2" stroke="#e4e3bf" stroke-width="0.7"/>
<line x1="427.2" y1="69.4" x2="427.2" y2="7.3" stroke="#e4e3bf" stroke-width="0.7"/>
<line x1="439.5" y1="69.4" x2="439.5" y2="7.3" stroke="#e4e3bf" stroke-width="0.7"/>
<line x1="451.8" y1="69.4" x2="451.8" y2="7.3" stroke="#e4e3bf" stroke-width="0.7"/>
<line x1="464.1" y1="69.4" x2="464.1" y2="7.3" stroke="#e4e3bf" stroke-width="0.7"/>
<line x1="476.3" y1="69.4" x2="476.3" y2="7.3" stroke="#e4e3bf" stroke-width="0.7"/>
<line x1="488.6" y1="69.4" x2="488.6" y2="7.3" stroke="#e4e3bf" stroke-width="0.7"/>
<line x1="500.9" y1="69.4" x2="500.9" y2="7.3" stroke="#e4e3bf" stroke-width="0.7"/>
<line x1="513.1" y1="69.4" x2="513.1" y2="7.3" stroke="#e4e3bf" stroke-width="0.7"/>
<line x1="525.4" y1="69.4" x2="525.4" y2="7.3" stroke="#e4e3bf" stroke-width="0.7"/>
<polygon points="304.9,197.7 415,69.4 537.7,69.4 483,197.7" fill="#f1f1f1"/>
<line x1="322.7" y1="197.7" x2="427.2" y2="69.4" stroke="#dedede" stroke-width="0.7"/>
<line x1="340.5" y1="197.7" x2="439.5" y2="69.4" stroke="#dedede" stroke-width="0.7"/>
<line x1="358.3" y1="197.7" x2="451.8" y2="69.4" stroke="#dedede" stroke-width="0.7"/>
<line x1="376.1" y1="197.7" x2="464.1" y2="69.4" stroke="#dedede" stroke-width="0.7"/>
<line x1="393.9" y1="197.7" x2="476.3" y2="69.4" stroke="#dedede" stroke-width="0.7"/>
<line x1="411.8" y1="197.7" x2="488.6" y2="69.4" stroke="#dedede" stroke-width="0.7"/>
<line x1="429.6" y1="197.7" x2="500.9" y2="69.4" stroke="#dedede" stroke-width="0.7"/>
<line x1="447.4" y1="197.7" x2="513.1" y2="69.4" stroke="#dedede" stroke-width="0.7"/>
<line x1="465.2" y1="197.7" x2="525.4" y2="69.4" stroke="#dedede" stroke-width="0.7"/>
<polygon points="314.6,186.4 487.8,186.4 491.9,176.7 322.9,176.7" fill="#fbfbfb"/>
<polygon points="332.5,165.5 496.7,165.5 500.4,156.8 340,156.8" fill="#fbfbfb"/>
<polygon points="348.7,146.7 504.7,146.7 508.1,138.8 355.4,138.8" fill="#fbfbfb"/>
<polygon points="363.3,129.7 512,129.7 515,122.5 369.4,122.5" fill="#fbfbfb"/>
<polygon points="376.6,114.2 518.6,114.2 521.4,107.6 382.2,107.6" fill="#fbfbfb"/>
<polygon points="388.7,100 524.6,100 527.2,94 393.9,94" fill="#fbfbfb"/>
<polygon points="399.9,87 530.2,87 532.5,81.5 404.6,81.5" fill="#fbfbfb"/>
<polygon points="410.1,75 535.3,75 537.4,70 414.5,70" fill="#fbfbfb"/>
<polygon points="304.9,197.7 304.9,107.5 415,7.3 415,69.4" fill="none" stroke="#333" stroke-width="0.8"/>
<polyline points="415,7.3 537.7,7.3 537.7,69.4" fill="none" stroke="#555" stroke-width="0.7"/>
<line x1="410.1" y1="75" x2="535.3" y2="75" stroke="#777" stroke-width="1"/>
<polygon points="429.5,75 429.5,73.6 430,72.1 430.5,70.7 431,69.3 431.5,68.2 432,66.5 432.6,65.4 433.1,64.4 433.6,63.3 434.1,63.8 434.6,65 435,66.1 435.5,67.1 436,68.1 436.5,69.4 437,70.4 437.5,71.7 438,72.9 438.5,73.3 439,73.6 439.5,73.6 440,73.6 440.5,73.6 441,73.6 441.5,73.6 442,73.6 442.5,73.6 443,73.6 443.5,73.6 444,73.6 444.5,73.6 445,73.6 445.5,73.6 446,73.6 446.5,73.6 447,73.6 447.5,73.6 448,73.6 448.5,73.6 449,73.6 449.5,73.6 450,73.6 450.5,73.6 451,73.6 451.5,73.6 452,73.6 452.5,72.6 453,72 453.5,70.8 454,70.3 454.5,68.8 455,68.9 455.5,67.4 456,67.4 456.5,66.6 457,65.7 457.5,64.4 458,63.3 458.5,62.9 459,63.4 459.5,61.6 460,61.7 460.5,61 461,60.5 461.5,59.1 462,58.5 462.5,58.1 463,59.2 463.5,58.1 464,58.2 464.5,57.9 465,57.1 465.5,56.6 466,56.3 466.5,57.6 467,56.6 467.5,57.9 468,57 468.5,57.6 469,56.8 469.5,57.9 470,57.1 470.5,57.4 471,57.7 471.5,57.1 472,57.4 472.5,58.3 473,57.6 473.5,57.8 474,58.4 474.5,57.7 475,57.7 475.5,57.8 476,58.2 476.5,58.2 477,58.7 477.5,58.5 478,59.2 478.5,58.1 479,59.1 479.5,59.4 480,58.6 480.5,58.3 481,58.9 481.5,58.4 482,58.9 482.5,59.3 483,58.4 483.5,58.4 484,59 484.5,58.5 485,58.6 485.5,58.9 486,58.4 486.5,58.4 487,58.8 487.5,59 488,59.7 488.5,59.1 489,58.4 489.5,58.6 490,59.4 490.5,59 491,59.5 491.5,59.5 492,59.3 492.5,58.2 493,59.4 493.5,58.7 494,58.2 494.5,58.1 495,59 495.5,58 496,57.8 496.5,58 497,58.9 497.5,58.2 498,58.5 498.5,57.5 499,58 499.5,57.8 500,57.6 500.5,58.2 501,57.8 501.5,57.4 502,58.7 502.5,58 503,57.5 503.5,57.3 504,58.2 504.5,58 505,57.3 505.5,58 506,58.4 506.5,58.1 507,57.6 507.5,58 508,58.2 508.5,58.2 509,57.5 509.5,58.5 510,58.7 510.5,58.4 511,58.6 511.5,57.9 512,58.7 512.5,57.6 513,57.7 513.5,58.3 514,58.8 514.5,57.6 515,57.8 515.5,57.5 516,58.1 516.5,57.7 517,57.8 517.5,58.7 518,58.4 518.5,59 519,58.2 519.5,58.6 520,57.7 520.5,59.1 521,58.1 521.5,58.5 522,58.5 522.5,59.2 523,58.6 523.5,59.3 524,58.8 524.5,58.2 525,59.2 525.5,58.3 526,59.5 526.5,58.7 527,58.4 527.5,59.5 528,58.6 528.5,58.8 529,58.7 529.5,59.2 530,58.3 530.5,58.8 531,58.5 531.5,59.5 532,58.3 532.5,59.2 533.1,58.6 533.6,58.9 534.1,59.1 534.6,59.3 535.1,58.5 535.6,59 535.3,59 535.3,75" fill="#000080" stroke="#000" stroke-width="0.5" stroke-linejoin="round"/>
<line x1="399.9" y1="87" x2="530.2" y2="87" stroke="#777" stroke-width="1"/>
<polygon points="419.4,87 419.4,85 419.8,77.5 420.2,70 420.7,57.5 421.2,45 421.8,36.6 422.4,28.2 422.9,33.2 423.3,37.6 423.8,42.5 424.4,49 424.9,55.9 425.4,60.7 426,65.6 426.6,68.2 427.1,70.1 427.6,72.5 428.2,74.8 428.7,74.2 429.2,76 429.7,75.6 430.2,75.6 430.7,77.7 431.2,76.1 431.6,75.8 432.1,76.2 432.6,76 433.1,77.1 433.5,76.8 434,75.9 434.5,75.7 435,75.9 435.5,75.4 436,74.8 436.4,74.2 436.9,73.1 437.4,72.9 437.9,73.3 438.4,72.8 438.9,72.8 439.4,72.8 439.9,72.7 440.4,71.1 440.9,70.6 441.4,71.9 442,71 442.5,70.1 443,70.8 443.5,69.8 444,69.5 444.5,69.8 445,70.1 445.5,70.5 446,69.4 446.5,70.7 447,70.5 447.5,70.3 448,70.7 448.5,71 449,69.6 449.5,70.5 450,70.9 450.5,71 451,71 451.5,70.2 452,71.6 452.5,71.4 453,70.4 453.5,70.8 454,71.8 454.5,70.5 455,70.8 455.5,71.8 456,71.7 456.5,70.5 457,71.4 457.5,70.7 458,71.3 458.5,71.5 459,70.3 459.5,70.5 460,70.5 460.5,70.6 461,70.2 461.5,70.3 462,70.8 462.5,70.9 463,70.2 463.5,71.1 464,71.8 464.5,71.1 465,70.7 465.5,71.4 466,70.9 466.5,70.4 467,71 467.5,70.1 468,71.3 468.5,70.4 469,70.8 469.5,71.8 470,71.5 470.5,71.6 471,71.3 471.5,71.2 472,71.4 472.5,71.8 473,70.5 473.5,71.5 474,70.6 474.5,70.6 475,71.7 475.5,71.4 476,72 476.5,72.1 477,71.7 477.5,71 478,70.8 478.5,71.8 479,72.2 479.5,71.5 480,71.2 480.5,71.1 481,71.4 481.5,72.3 482,71 482.5,71.4 483,71.5 483.5,72.2 484,72.7 484.5,71 485,71.1 485.5,72.6 486,72.6 486.5,71.1 487,71.4 487.5,71.7 488,71.4 488.5,71.5 489,71.6 489.5,71.2 490,70.8 490.5,70.8 491,70.9 491.5,70.8 492,71.7 492.5,71.8 493,71 493.5,71.9 494,71.8 494.5,71 495,71.3 495.5,70.7 496,72 496.5,71.3 497,70.4 497.5,70.5 498,71.5 498.5,70.9 499,71.5 499.5,70.5 500,71.5 500.5,71.5 501,70.3 501.5,71.2 502,70.4 502.5,71.4 503,71.5 503.5,71.5 504,70.5 504.5,70.3 505,71.3 505.5,71.1 506,70.3 506.5,70.4 507,71.1 507.5,70.3 508,71.2 508.5,70.5 509,70.6 509.5,70.9 510,71.1 510.5,71.4 511,70.1 511.5,71.3 512,70.4 512.5,70.5 513,71.1 513.5,71.1 514,71 514.5,71.5 515,70.2 515.5,70.3 516,70.9 516.5,70.2 517,70 517.5,70.1 518,71 518.5,71.1 519,70.8 519.5,71.3 520,70.9 520.5,70.1 521,70.1 521.5,70.8 522,69.6 522.5,70.6 523,69.7 523.5,69.6 524,70.4 524.5,69.8 525,71.2 525.5,71.1 526,70.3 526.5,69.9 527,69.7 527.5,70.4 528,70.4 528.5,70.2 529,70.8 529.5,70.5 530,70.4 530.2,70.4 530.2,87" fill="#808000" stroke="#000" stroke-width="0.5" stroke-linejoin="round"/>
<line x1="388.7" y1="100" x2="524.6" y2="100" stroke="#777" stroke-width="1"/>
<polygon points="417,100 417,99 417.5,98.4 418,97.8 418.5,97.1 419,97 419.5,97.2 420,95.8 420.5,97.1 421,94.2 421.5,95.7 422,93.4 422.5,95.3 423,94.9 423.5,92.6 424,95.1 424.5,92.2 425,92 425.5,91.7 426,94.2 426.5,90.3 427,93.9 427.5,93.9 428,91.5 428.5,93.8 429,93.3 429.5,93.8 430,93.8 430.5,90.7 431,91.9 431.5,86.9 432,88.4 432.5,88.9 433,88 433.5,88.5 434,85.6 434.5,85.9 435,88.3 435.5,85.9 436,88 436.5,89.7 437,89.6 437.5,87.6 438,88.3 438.5,88.1 439,91 439.5,90.2 440,91 440.5,91.7 441,92 441.5,91 442,89 442.5,89.5 443,88.5 443.5,89.3 444,89.4 444.5,91.4 445,88.6 445.5,91 446,88.7 446.5,90.2 447,89.4 447.5,91.1 448,88.9 448.5,88.4 449,88.4 449.5,89.1 450,90.4 450.5,90.2 451,92.6 451.5,91.4 452,90.9 452.5,92.1 453,92.7 453.5,89.8 454,92.8 454.5,91.6 455,93.3 455.5,90.7 456,91.5 456.5,90.4 457,89.5 457.5,90.7 458,89.2 458.5,91.6 459,89.4 459.5,90.6 460,88.2 460.5,91 461,88.2 461.5,89.4 462,87.3 462.5,86.2 463,87 463.5,85.1 464,88 464.5,84.6 465,85.2 465.5,86 466,85.6 466.5,83.5 467,84.6 467.5,82.5 468,80.8 468.5,82.7 469,81.4 469.5,79.6 470,80.1 470.5,77.1 471,79.9 471.5,77.4 472,76.7 472.5,77.8 473,77.9 473.5,77.3 474,75.1 474.5,75.2 475,74.9 475.5,76.2 476,73.2 476.5,74.9 477,73.3 477.5,73.2 478,74.8 478.5,74.5 479,74 479.5,75.9 480,77.4 480.5,78.1 481,77.4 481.5,77.8 482,80.8 482.5,79.8 483,80 483.5,81.3 484,79.2 484.5,79.1 485,82 485.5,81.7 486,80.9 486.5,80.6 487,82.4 487.5,82.9 488,83.6 488.5,82.2 489,80.9 489.5,81.7 490,77.6 490.5,81.7 491,80.9 491.5,80.2 492,80 492.5,82.4 493,80.2 493.5,79.7 494,81.3 494.5,79.7 495,79.9 495.5,80.9 496,80.2 496.5,79.7 497,79.2 497.5,82.5 498,80 498.5,83.3 499,84.3 499.5,83 500,81.2 500.5,80.7 501,84.4 501.5,80.9 502,83.8 502.5,84.6 503,79 503.5,82.6 504,80.9 504.5,83 505,81.5 505.5,81.8 506,80.9 506.5,84 507,82.1 507.5,79.9 508,81.1 508.5,80.9 509,82.3 509.5,80.6 510,81.1 510.5,80 511,82 511.5,80 512,79.5 512.5,77.9 513,81.6 513.5,78.3 514,80.3 514.5,81.1 515,80.6 515.5,83.2 516,81.9 516.5,80.9 517,83.5 517.5,83.1 518,84.2 518.5,81.3 519,81.1 519.5,80.7 520,82.3 520.5,82 521,81.7 521.5,82.9 522,83.1 522.5,82.7 523,81 523.5,81.2 524,83 524.6,83 524.6,100" fill="#ffff00" stroke="#000" stroke-width="0.5" stroke-linejoin="round"/>
<line x1="376.6" y1="114.2" x2="518.6" y2="114.2" stroke="#777" stroke-width="1"/>
<polygon points="413,114.2 413,113.3 413.5,113.1 414,112.9 414.5,112.7 415,112.4 415.5,112.9 416,112.8 416.5,111.9 417,112 417.5,112.1 418,112.1 418.5,109.8 419,109.6 419.5,109.1 420,110.1 420.5,108.7 421,109.1 421.5,109.4 422,107.8 422.5,109.1 423,108.4 423.5,108.9 424,109.1 424.5,108.4 425,107.5 425.5,106.2 426,106.9 426.5,106.1 427,105.8 427.5,106.8 428,107.1 428.5,106.2 429,104.2 429.5,106.6 430,106.2 430.5,105.2 431,106.5 431.5,103.9 432,104.9 432.5,102.8 433,104.4 433.5,103.8 434,104.8 434.5,102.7 435,103.1 435.5,103.7 436,104.4 436.5,102.9 437,100.9 437.5,101.6 438,102.2 438.5,102.3 439,102.8 439.5,101.4 440,101.5 440.5,100.9 441,101.6 441.5,101.2 442,98.6 442.5,97.8 443,99 443.5,99.4 444,98.2 444.5,95 445,98.2 445.5,95.9 446,97.2 446.5,96.4 447,94.5 447.5,94.1 448,94.3 448.5,94.8 449,95.9 449.5,93.4 450,94.2 450.5,93 451,95.3 451.5,96.8 452,95.9 452.5,94.7 453,96.4 453.5,98.1 454,95.3 454.5,97.3 455,95.5 455.5,97 456,96.3 456.5,93.8 457,95.5 457.5,95.4 458,94.3 458.5,95.8 459,97.2 459.5,96.7 460,95.8 460.5,97.4 461,94.1 461.5,93.2 462,94.7 462.5,94.8 463,92.8 463.5,93.6 464,94.8 464.5,92.2 465,94.9 465.5,91.9 466,91.3 466.5,90.9 467,94.2 467.5,92.2 468,93.4 468.5,92.2 469,92.1 469.5,93.6 470,95.1 470.5,93.9 471,95.3 471.5,94.4 472,94.6 472.5,95 473,95.2 473.5,92.9 474,94.2 474.5,93.3 475,95.1 475.5,92.3 476,92 476.5,94.1 477,93.4 477.5,93.4 478,91 478.5,93.4 479,93.1 479.5,93 480,93.9 480.5,88.3 481,93.1 481.5,90.2 482,91.3 482.5,91.7 483,90.4 483.5,92.8 484,92.3 484.5,91.9 485,92.2 485.5,91.9 486,88.8 486.5,90.3 487,90.2 487.5,91.3 488,90.5 488.5,91.7 489,91.5 489.5,91.5 490,93.5 490.5,93.1 491,95 491.5,93.2 492,93.6 492.5,95.3 493,94.1 493.5,93.7 494,93.8 494.5,94.8 495,95.6 495.5,95.3 496,95.4 496.5,93 497,93 497.5,95 498,96.8 498.5,93.6 499,92.8 499.5,94.9 500,93.2 500.5,93.3 501,94.5 501.5,94.1 502,92 502.5,93.5 503,90.8 503.5,92.7 504,92.4 504.5,88.8 505,88.1 505.5,90.2 506,90.6 506.5,88.1 507,88.5 507.5,90.6 508,90.1 508.5,86.5 509,89.4 509.5,88.3 510,91.6 510.5,90.8 511,89.6 511.5,92.1 512,91.6 512.5,91.8 513,92.5 513.5,92 514,93 514.5,93.4 515,92.7 515.5,96.5 516,96.9 516.6,97.3 517.1,95.6 517.6,98.2 518.1,97.7 518.6,98 518.6,98 518.6,114.2" fill="#ff00ff" stroke="#000" stroke-width="0.5" stroke-linejoin="round"/>
<line x1="363.3" y1="129.7" x2="512" y2="129.7" stroke="#777" stroke-width="1"/>
<polygon points="384.4,129.7 384.4,128 384.9,123.1 385.5,118.1 386.1,114.3 386.6,110.8 387.1,113.3 387.5,115.4 388,118 388.5,119.2 389,122 389.5,122.1 390,122.6 390.5,123.8 391,121.7 391.5,123 392,125.1 392.5,124.6 393,124.7 393.5,126.6 394,123.9 394.5,125.9 395,125.2 395.5,126.5 396,126.7 396.5,126.1 397,127.2 397.5,126.4 398,125.6 398.5,126.3 399,124.9 399.5,124.4 400,124.3 400.5,124.6 401,123.9 401.5,124.7 402,125.2 402.5,124.9 403,124.5 403.5,124 404,124.2 404.5,123.7 405,125.6 405.5,123.7 406,122.9 406.5,125.8 407,123.8 407.5,123.6 408,123.2 408.5,124.6 409,125.4 409.5,124.5 410,123.9 410.5,122.6 411,123.2 411.5,124.1 412,126 412.5,126.2 413,125.5 413.5,125.8 414,125.2 414.5,123.2 415,124.5 415.5,124.2 416,124.1 416.5,122.4 417,123.5 417.5,125.1 418,124.6 418.5,121.1 419,122.6 419.5,121.3 420,122.7 420.5,120.6 421,121.6 421.5,120.3 422,119.1 422.5,119.4 423,118.7 423.5,118.1 424,117 424.5,117.8 425,116.7 425.5,115.8 426,114.8 426.5,114.9 427,115.1 427.5,113.8 428,113.5 428.5,114.2 429,113.8 429.5,112.9 430,110.7 430.5,111.4 431,112.2 431.5,109.3 432,109.9 432.5,110.4 433,110 433.5,108.3 434,107.3 434.5,109.2 435,107.8 435.5,107.8 436,107.2 436.5,108.4 437,106.8 437.5,107.5 438,107.1 438.5,108.4 439,106.5 439.5,106.4 440,106.9 440.5,107.4 441,108.4 441.5,106.3 442,105.9 442.5,106.2 443,108.1 443.5,105.1 444,106.9 444.5,106.8 445,105.8 445.5,107.1 446,106.8 446.5,108.1 447,106.2 447.5,108.4 448,107.7 448.5,107.2 449,106.6 449.5,107.9 450,108.6 450.5,106.1 451,108 451.5,107.1 452,108.4 452.5,106.9 453,108.3 453.5,106.5 454,107.5 454.5,106.4 455,107.5 455.5,107.6 456,107.9 456.5,107 457,106.9 457.5,107.3 458,108.4 458.5,107.3 459,107.9 459.5,108.2 460,107.8 460.5,108.1 461,109.7 461.5,109.5 462,106.9 462.5,109.2 463,109.7 463.5,107.9 464,108.8 464.5,110.2 465,109.3 465.5,107.8 466,110.4 466.5,109.5 467,108 467.5,108.2 468,109.4 468.5,108.3 469,107.7 469.5,108 470,108.3 470.5,109.4 471,108.9 471.5,108.4 472,108.6 472.5,109.6 473,110.9 473.5,110.5 474,110.7 474.5,109 475,108.8 475.5,108.6 476,108.1 476.5,108.7 477,107.3 477.5,108.3 478,107.6 478.5,108.9 479,108.9 479.5,108.7 480,106.3 480.5,105.8 481,107.6 481.5,106 482,106.4 482.5,107.1 483,107.1 483.5,106.5 484,108.2 484.5,104.9 485,107.7 485.5,107.7 486,108.9 486.5,108 487,106.8 487.5,109.9 488,110.1 488.5,109.7 489,109.5 489.5,110.2 490,110.1 490.5,109.9 491,108.5 491.5,110 492,110.2 492.5,107.3 493,108.4 493.5,106.9 494,108.6 494.5,108.9 495,108.9 495.5,108.5 496,107.8 496.5,107.7 497,108.9 497.5,107.1 498,110 498.5,109.1 499,111.3 499.5,111.4 500,108.9 500.5,108.6 501,111 501.5,110.3 502,109.1 502.5,109.5 503,109.3 503.5,110.5 504,110.7 504.5,111.6 505,110.6 505.5,111.7 506,109.3 506.5,111.2 507,111 507.5,111.9 508,110.5 508.5,111.5 509,109.6 509.5,111.7 510,111.4 510.5,108.9 511,110.4 511.5,112.4 512,111 512,111 512,129.7" fill="#00ffff" stroke="#000" stroke-width="0.5" stroke-linejoin="round"/>
<line x1="348.7" y1="146.7" x2="504.7" y2="146.7" stroke="#777" stroke-width="1"/>
<polygon points="398,146.7 398,146 398.5,141.6 399,136.2 399.5,132.1 400,132.6 400.5,131.6 401,132.5 401.5,128.5 402,128.9 402.5,129.7 403,127.6 403.5,130 404,125.2 404.5,127.7 405,129.2 405.5,130.5 406,127.8 406.5,128.1 407,127.4 407.5,129.8 408,127.1 408.5,133.4 409,129.9 409.5,135.1 410,131.1 410.5,135.1 411,137.3 411.5,137.7 412,136.5 412.5,134.3 413,135.7 413.5,134.7 414,134.4 414.5,133.8 415,130.6 415.5,132.8 416,134.2 416.5,131.4 417,131.2 417.5,131.4 418,129 418.5,127.5 419,130.3 419.5,128 420,128.8 420.5,128.2 421,127.8 421.5,128.3 422,126.1 422.5,126.3 423,126.1 423.5,127.2 424,124.4 424.5,125.7 425,124.4 425.5,124.9 426,125.5 426.5,123.4 427,126 427.5,124.2 428,123.5 428.5,124.4 429,127.2 429.5,124.2 430,125.3 430.5,127.6 431,128.1 431.5,126.1 432,128.9 432.5,128.1 433,129.2 433.5,126.9 434,125.5 434.5,130.3 435,129.8 435.5,127.5 436,130.7 436.5,128 437,131.3 437.5,131.5 438,130.1 438.5,127 439,129.5 439.5,129.8 440,132.7 440.5,131.5 441,129.7 441.5,130.6 442,132.6 442.5,131.7 443,129.8 443.5,130.5 444,131.3 444.5,130.3 445,131.8 445.5,130.5 446,133 446.5,131.1 447,129.4 447.5,128.5 448,129.7 448.5,132 449,129 449.5,131 450,127.3 450.5,129.8 451,129.2 451.5,128.3 452,127.8 452.5,129.6 453,129.4 453.5,126.2 454,127.6 454.5,126.1 455,123.9 455.5,126.9 456,123.9 456.5,124.4 457,122.6 457.5,121.2 458,121.7 458.5,122.1 459,123.8 459.5,122.1 460,117.5 460.5,121 461,122.3 461.5,119.1 462,117.9 462.5,119.3 463,118.2 463.5,117.3 464,117.4 464.5,117.4 465,115.3 465.5,117.7 466,114.8 466.5,115.6 467,115.6 467.5,116.3 468,114.8 468.5,116.6 469,113.1 469.5,116.4 470,114.3 470.5,115 471,118.4 471.5,118.3 472,115 472.5,119.7 473,119.9 473.5,121.7 474,121.5 474.5,120.9 475,123.3 475.5,122.2 476,121.8 476.5,121.1 477,125.2 477.5,124.7 478,122.8 478.5,123.3 479,123.8 479.5,125.1 480,127.2 480.5,124.1 481,122.6 481.5,124.1 482,121 482.5,124.6 483,121.6 483.5,122.9 484,121.8 484.5,124.6 485,124.4 485.5,124.7 486,122.2 486.5,123.8 487,121.9 487.5,121.2 488,124 488.5,121.4 489,120.9 489.5,120.1 490,122.4 490.5,123.9 491,121 491.5,122.7 492,120.6 492.5,122.4 493,119.1 493.5,120.1 494,117.1 494.5,119.9 495,120.5 495.5,120.9 496,122.1 496.5,122.8 497,124 497.5,125.2 498,123.9 498.5,120.2 499,121.7 499.5,124 500,123.8 500.5,126.7 501,125.4 501.5,124.2 502,125.5 502.5,124.6 503,124.1 503.5,122.9 504,125.1 504.5,125 505,127 504.7,127 504.7,146.7" fill="#0000ff" stroke="#000" stroke-width="0.5" stroke-linejoin="round"/>
<line x1="332.5" y1="165.5" x2="496.7" y2="165.5" stroke="#777" stroke-width="1"/>
<polygon points="357,165.5 357,164.4 357.5,159.7 358,155.1 358.5,149.9 359,146.5 359.5,143.3 360,139.6 360.5,139.7 361.1,135.9 361.6,135.4 362.1,138.6 362.6,139.2 363.1,137.3 363.5,139.4 364,140.4 364.5,140.4 365,139.9 365.5,140.6 366,143.8 366.5,145.6 367,143.7 367.5,145.5 368,142.9 368.5,145.4 369,147.6 369.5,144.8 370,146 370.5,150.3 371,144.5 371.5,150.1 372,148.4 372.5,149.7 373,146.4 373.5,145.8 374,148.2 374.5,143.8 375,145 375.5,142.9 376,142.4 376.5,143.1 377,141.9 377.5,143.1 378,143.7 378.5,141.8 379,139.2 379.5,139 380,139 380.5,140.7 381,141.4 381.5,141.4 382,139.2 382.5,139.9 383,137.6 383.5,139.9 384,139.4 384.5,135.8 385,138 385.5,137.7 386,136.3 386.5,136.1 387,135.4 387.5,136.2 388,133.8 388.5,135.2 389,135.9 389.5,135.4 390,135.5 390.5,132.8 391,136.6 391.5,137.8 392,134.8 392.5,140 393,138.9 393.5,138.1 394,141 394.5,139.5 395,141.4 395.5,140.4 396,141.8 396.5,141 397,142.8 397.5,141.5 398,141 398.5,142.7 399,143.5 399.5,142 400,142.8 400.5,144 401,142.1 401.5,142.6 402,142.5 402.5,142.4 403,142.5 403.5,143.9 404,142.4 404.5,143.1 405,142.2 405.5,142.4 406,143 406.5,142.8 407,142.9 407.5,142.9 408,142.5 408.5,141.6 409,142 409.5,142.4 410,142.4 410.5,142.5 411,143.8 411.5,144 412,144.2 412.5,143.6 413,141.2 413.5,143.1 414,143.5 414.5,142.4 415,144.2 415.5,142.7 416,143.4 416.5,143.5 417,144.4 417.5,143.8 418,144 418.5,145.3 419,145.2 419.5,145.2 420,144.2 420.5,145.1 421,145.4 421.5,144.6 422,145.9 422.5,144.3 423,144.9 423.5,144.6 424,145.3 424.5,144.9 425,146.5 425.5,146.2 426,145.4 426.5,145 427,145 427.5,145.1 428,147.3 428.5,145.6 429,146.8 429.5,145.8 430,145.2 430.5,146.8 431,147 431.5,147.9 432,146 432.5,146 433,146.5 433.5,147.6 434,148.4 434.5,146.7 435,148.5 435.5,147.1 436,147.3 436.5,147.2 437,148.4 437.5,148.2 438,147.5 438.5,149.7 439,149.8 439.5,149 440,148.7 440.5,147.9 441,148.4 441.5,147.5 442,149.3 442.5,149.4 443,147.5 443.5,148.8 444,146.3 444.5,148 445,147.6 445.5,147.9 446,148.7 446.5,148.2 447,148.5 447.5,147.6 448,146.9 448.5,148 449,144.5 449.5,146 450,147.1 450.5,147 451,145.4 451.5,144.7 452,147.1 452.5,147.2 453,145.2 453.5,146.4 454,146.3 454.5,147.5 455,146.3 455.5,145.9 456,147.1 456.5,145.9 457,146.3 457.5,145.9 458,146.6 458.5,146.3 459,146.2 459.5,144.9 460,146.5 460.5,146.2 461,146.4 461.5,145.5 462,145.9 462.5,144.7 463,145.3 463.5,143.9 464,146.4 464.5,145.4 465,145.7 465.5,146.6 466,145.9 466.5,143.7 467,144.4 467.5,146.4 468,146.3 468.5,144 469,144 469.5,144.6 470,145.1 470.5,144.5 471,145.5 471.5,144.9 472,143.6 472.5,143.7 473,145.9 473.5,145.8 474,144.2 474.5,145.6 475,143.4 475.5,144.6 476,144.1 476.5,144.6 477,144.6 477.5,144.2 478,145.2 478.5,144 479,145.6 479.5,145.4 480,146.2 480.5,146 481,143.8 481.5,144.3 482,144.5 482.5,145.8 483,145.6 483.5,144.7 484,145.7 484.5,144.2 485,143.9 485.5,143.2 486,143.4 486.5,143.8 487,145.5 487.5,144.2 488,145.3 488.5,144.2 489,144.1 489.5,144.6 490,144.8 490.5,144.2 491,143.4 491.5,143.1 492,142.8 492.5,143.5 493,144.6 493.5,142 494,143.7 494.5,145.4 495,145.6 495.5,145.4 496,143.8 496.5,144.3 497,145 496.7,145 496.7,165.5" fill="#00ff00" stroke="#000" stroke-width="0.5" stroke-linejoin="round"/>
<line x1="314.6" y1="186.4" x2="487.8" y2="186.4" stroke="#777" stroke-width="1"/>
<polygon points="339.1,186.4 339.1,186 339.6,178.2 340,170.3 340.5,162.5 341,153.6 341.6,144.8 342.1,135.9 342.6,127 343.2,123.4 343.7,119.7 344.3,116.2 344.8,119.6 345.3,123.3 345.8,127.2 346.2,131.7 346.7,137.2 347.2,141.2 347.8,146.6 348.3,153 348.9,158.2 349.4,163.1 349.8,166 350.3,171.2 350.8,172.6 351.4,173.7 351.9,174.8 352.4,177.2 352.9,177.8 353.5,177.5 354,177.8 354.6,178.6 355.1,178.8 355.6,178 356.2,177.1 356.7,177.4 357.2,177.3 357.7,177.8 358.2,177.7 358.8,176.2 359.3,175.3 359.8,174.6 360.3,175.1 360.9,175 361.4,173.4 361.9,173.6 362.4,173.4 362.9,171.1 363.5,171.4 364,169.5 364.5,169.1 365,168.4 365.5,166.1 366.1,165.4 366.6,165.4 367.1,162.9 367.6,162.2 368.1,161.6 368.6,161.2 369.1,160.2 369.6,159.8 370.1,158.6 370.6,158.2 371.2,158.9 371.7,159.5 372.3,160.8 372.8,160.8 373.3,162.1 373.9,162.7 374.4,162.6 374.9,164.1 375.4,163.9 375.9,165.3 376.5,164.9 377,165.8 377.5,165.8 378.1,165.5 378.6,166.4 379.1,165.3 379.6,165.8 380.1,166 380.7,167 381.2,166.5 381.7,165.6 382.2,165.9 382.6,166.2 383.1,166.3 383.6,165.1 384.1,166 384.6,165.2 385.1,165.3 385.6,165 386,164.8 386.5,165.5 387,165.2 387.5,165 388,164.4 388.5,164.1 389,163 389.5,162.6 390,163.5 390.5,163.4 391,163.5 391.5,163.2 392,163.3 392.5,164.5 393,164 393.5,163.4 394,164.1 394.5,164.3 395,164 395.5,165.6 396,165.6 396.5,165.6 397,164.5 397.5,165.2 398,164.8 398.5,165.8 399,166.1 399.5,166.1 400,166.2 400.5,165.3 401,165.3 401.5,165.5 402,166.7 402.5,166.8 403,166.4 403.5,166.1 404,167.1 404.5,166.1 405,166.5 405.5,166.2 406,167.7 406.5,166.9 407,167.4 407.5,167.4 408,167.1 408.5,167.7 409,167.3 409.5,167.5 410,167.6 410.5,166.2 411,167.2 411.5,166.4 412,166.6 412.5,166.6 413,167.5 413.5,166.1 414,166.7 414.5,166.2 415,167.5 415.5,166.7 416,167 416.5,166.7 417,167.1 417.5,166.4 418,166.5 418.5,167 419,166.9 419.5,167.2 420,166.3 420.5,167 421,166.8 421.5,166.4 422,166.1 422.5,166.2 423,165.4 423.5,165.3 424,165.5 424.5,165.1 425,164.9 425.5,165.8 426,165.7 426.5,165.5 427,164.8 427.5,165.4 428,165.5 428.5,165.1 429,164.4 429.5,164.8 430,164.4 430.5,164.2 431,163.9 431.5,164.9 432,164.5 432.5,164.8 433,163.6 433.5,163.7 434,164 434.5,163.2 435,163.5 435.5,163.8 436,163.6 436.5,164.2 437,163.6 437.5,163.6 438,163.4 438.5,163.7 439,163 439.5,162.3 440,163.7 440.5,163.5 441,162.5 441.5,162.5 442,162.7 442.5,163.3 443,162.6 443.5,162.4 444,163.2 444.5,162.4 445,162.8 445.5,163 446,162.8 446.5,162.5 447,162.9 447.5,162.9 448,163.1 448.5,163.2 449,163.1 449.5,163.1 450,162.7 450.5,163.9 451,163.8 451.5,163.4 452,162.7 452.5,163 453,164.1 453.5,163.4 454,163 454.5,164 455,164.1 455.5,162.9 456,163.5 456.5,163.6 457,163 457.5,163.3 458,163.7 458.5,163.8 459,163.8 459.5,163.8 460,163.4 460.5,163 461,162.9 461.5,164.2 462,164.2 462.5,164.3 463,163.1 463.5,164.1 464,163.3 464.5,163.5 465,163.4 465.5,164.4 466,164.3 466.5,164.4 467,163.7 467.5,164.6 468,163.6 468.5,164.1 469,164.2 469.5,163.6 470,163.8 470.5,163.4 471,164.4 471.5,163.5 472,163.5 472.5,163.7 473,164.2 473.5,164.2 474,164 474.5,164.5 475,164.4 475.5,163.6 476,164.1 476.5,163.5 477,163.6 477.5,163.5 478,163.4 478.5,163.8 479,164.6 479.5,164.2 480,163.4 480.5,163.5 481,164.1 481.5,163.9 482,163.1 482.5,163.2 483,163.9 483.5,163.9 484,163.1 484.5,164.1 485,163.2 485.5,163.7 486,163.6 486.5,163.3 487,164.1 487.5,163.3 488,163.4 487.8,163.4 487.8,186.4" fill="#ff0000" stroke="#000" stroke-width="0.5" stroke-linejoin="round"/>
<line x1="304.9" y1="198.3" x2="304.9" y2="107.5" stroke="#000" stroke-width="1.3"/>
<line x1="301.4" y1="197.7" x2="304.9" y2="197.7" stroke="#000" stroke-width="1.2"/>
<text x="299.6" y="201.6" text-anchor="end" class="tk">0.0</text>
<line x1="301.4" y1="187.1" x2="304.9" y2="187.1" stroke="#000" stroke-width="1.2"/>
<text x="299.6" y="191" text-anchor="end" class="tk">0.5</text>
<line x1="301.4" y1="176.6" x2="304.9" y2="176.6" stroke="#000" stroke-width="1.2"/>
<text x="299.6" y="180.5" text-anchor="end" class="tk">1.0</text>
<line x1="301.4" y1="166" x2="304.9" y2="166" stroke="#000" stroke-width="1.2"/>
<text x="299.6" y="169.9" text-anchor="end" class="tk">1.5</text>
<line x1="301.4" y1="155.5" x2="304.9" y2="155.5" stroke="#000" stroke-width="1.2"/>
<text x="299.6" y="159.4" text-anchor="end" class="tk">2.0</text>
<line x1="301.4" y1="144.9" x2="304.9" y2="144.9" stroke="#000" stroke-width="1.2"/>
<text x="299.6" y="148.8" text-anchor="end" class="tk">2.5</text>
<line x1="301.4" y1="134.4" x2="304.9" y2="134.4" stroke="#000" stroke-width="1.2"/>
<text x="299.6" y="138.3" text-anchor="end" class="tk">3.0</text>
<line x1="301.4" y1="123.8" x2="304.9" y2="123.8" stroke="#000" stroke-width="1.2"/>
<text x="299.6" y="127.7" text-anchor="end" class="tk">3.5</text>
<line x1="301.4" y1="113.3" x2="304.9" y2="113.3" stroke="#000" stroke-width="1.2"/>
<text x="299.6" y="117.2" text-anchor="end" class="tk">4.0</text>
<line x1="304.3" y1="197.7" x2="483.6" y2="197.7" stroke="#000" stroke-width="1.3"/>
<line x1="304.9" y1="197.7" x2="304.9" y2="201.2" stroke="#000" stroke-width="1.2"/>
<text x="304.9" y="211" text-anchor="middle" class="tk">0</text>
<line x1="322.7" y1="197.7" x2="322.7" y2="201.2" stroke="#000" stroke-width="1.2"/>
<text x="322.7" y="211" text-anchor="middle" class="tk">1</text>
<line x1="340.5" y1="197.7" x2="340.5" y2="201.2" stroke="#000" stroke-width="1.2"/>
<text x="340.5" y="211" text-anchor="middle" class="tk">2</text>
<line x1="358.3" y1="197.7" x2="358.3" y2="201.2" stroke="#000" stroke-width="1.2"/>
<text x="358.3" y="211" text-anchor="middle" class="tk">3</text>
<line x1="376.1" y1="197.7" x2="376.1" y2="201.2" stroke="#000" stroke-width="1.2"/>
<text x="376.1" y="211" text-anchor="middle" class="tk">4</text>
<line x1="393.9" y1="197.7" x2="393.9" y2="201.2" stroke="#000" stroke-width="1.2"/>
<text x="393.9" y="211" text-anchor="middle" class="tk">5</text>
<line x1="411.8" y1="197.7" x2="411.8" y2="201.2" stroke="#000" stroke-width="1.2"/>
<text x="411.8" y="211" text-anchor="middle" class="tk">6</text>
<line x1="429.6" y1="197.7" x2="429.6" y2="201.2" stroke="#000" stroke-width="1.2"/>
<text x="429.6" y="211" text-anchor="middle" class="tk">7</text>
<line x1="447.4" y1="197.7" x2="447.4" y2="201.2" stroke="#000" stroke-width="1.2"/>
<text x="447.4" y="211" text-anchor="middle" class="tk">8</text>
<line x1="465.2" y1="197.7" x2="465.2" y2="201.2" stroke="#000" stroke-width="1.2"/>
<text x="465.2" y="211" text-anchor="middle" class="tk">9</text>
<line x1="483" y1="197.7" x2="483" y2="201.2" stroke="#000" stroke-width="1.2"/>
<text x="483" y="211" text-anchor="middle" class="tk">10</text>
<line x1="483" y1="197.7" x2="537.7" y2="69.4" stroke="#000" stroke-width="1.3"/>
<line x1="487.8" y1="186.4" x2="491" y2="186.4" stroke="#000" stroke-width="1.1"/>
<text x="492.4" y="189.8" class="tk" style="font-size:8.6px;stroke-width:0.2px">A</text>
<line x1="496.7" y1="165.5" x2="499.9" y2="165.5" stroke="#000" stroke-width="1.1"/>
<text x="501.3" y="168.8" class="tk" style="font-size:8.4px;stroke-width:0.2px">B</text>
<line x1="504.7" y1="146.7" x2="507.9" y2="146.7" stroke="#000" stroke-width="1.1"/>
<text x="509.3" y="149.9" class="tk" style="font-size:8.2px;stroke-width:0.3px">C</text>
<line x1="512" y1="129.7" x2="515.2" y2="129.7" stroke="#000" stroke-width="1.1"/>
<text x="516.6" y="132.8" class="tk" style="font-size:7.8px;stroke-width:0.3px">D</text>
<line x1="518.6" y1="114.2" x2="521.8" y2="114.2" stroke="#000" stroke-width="1.1"/>
<text x="523.2" y="117.2" class="tk" style="font-size:7.6px;stroke-width:0.3px">E</text>
<line x1="524.6" y1="100" x2="527.8" y2="100" stroke="#000" stroke-width="1.1"/>
<text x="529.2" y="102.9" class="tk" style="font-size:7.4px;stroke-width:0.3px">F</text>
<line x1="530.2" y1="87" x2="533.4" y2="87" stroke="#000" stroke-width="1.1"/>
<text x="534.8" y="89.8" class="tk" style="font-size:7.2px;stroke-width:0.4px">G</text>
<line x1="535.3" y1="75" x2="538.5" y2="75" stroke="#000" stroke-width="1.1"/>
<text x="539.9" y="77.7" class="tk" style="font-size:6.8px;stroke-width:0.4px">H</text>
<text transform="translate(284.7,151.9) rotate(-90)" text-anchor="middle" class="al" style="font-size:10.5px">g(r)</text>
<text x="394.4" y="221.6" text-anchor="middle" class="al">r(Å)</text>
<text transform="translate(535.3,123.6) rotate(-68.5) scale(0.72,1)" text-anchor="middle" class="zl">Rutin/HP-β-CD</text>
<text x="341.1" y="30.9" text-anchor="middle" class="tt">(b)</text>
<polygon points="136.1,425.9 136.1,335.6 247.4,233.5 247.4,295.7" fill="#ddf6f5"/>
<line x1="136.1" y1="410.8" x2="247.4" y2="285.4" stroke="#c6e2e4" stroke-width="0.7"/>
<line x1="136.1" y1="395.8" x2="247.4" y2="275" stroke="#c6e2e4" stroke-width="0.7"/>
<line x1="136.1" y1="380.8" x2="247.4" y2="264.6" stroke="#c6e2e4" stroke-width="0.7"/>
<line x1="136.1" y1="365.7" x2="247.4" y2="254.3" stroke="#c6e2e4" stroke-width="0.7"/>
<line x1="136.1" y1="350.6" x2="247.4" y2="243.9" stroke="#c6e2e4" stroke-width="0.7"/>
<line x1="136.1" y1="335.6" x2="247.4" y2="233.5" stroke="#c6e2e4" stroke-width="0.7"/>
<line x1="145.9" y1="414.4" x2="145.9" y2="326.6" stroke="#c6e2e4" stroke-width="0.7"/>
<line x1="164" y1="393.2" x2="164" y2="310" stroke="#c6e2e4" stroke-width="0.7"/>
<line x1="180.3" y1="374.2" x2="180.3" y2="295" stroke="#c6e2e4" stroke-width="0.7"/>
<line x1="195.1" y1="356.9" x2="195.1" y2="281.5" stroke="#c6e2e4" stroke-width="0.7"/>
<line x1="208.6" y1="341.2" x2="208.6" y2="269.1" stroke="#c6e2e4" stroke-width="0.7"/>
<line x1="220.9" y1="326.8" x2="220.9" y2="257.9" stroke="#c6e2e4" stroke-width="0.7"/>
<line x1="232.1" y1="313.6" x2="232.1" y2="247.5" stroke="#c6e2e4" stroke-width="0.7"/>
<line x1="242.5" y1="301.5" x2="242.5" y2="238" stroke="#c6e2e4" stroke-width="0.7"/>
<polygon points="247.4,295.7 247.4,233.5 371.4,233.5 371.4,295.7" fill="#fefdd8"/>
<line x1="247.4" y1="285.4" x2="371.4" y2="285.4" stroke="#e4e3bf" stroke-width="0.7"/>
<line x1="247.4" y1="275" x2="371.4" y2="275" stroke="#e4e3bf" stroke-width="0.7"/>
<line x1="247.4" y1="264.6" x2="371.4" y2="264.6" stroke="#e4e3bf" stroke-width="0.7"/>
<line x1="247.4" y1="254.3" x2="371.4" y2="254.3" stroke="#e4e3bf" stroke-width="0.7"/>
<line x1="247.4" y1="243.9" x2="371.4" y2="243.9" stroke="#e4e3bf" stroke-width="0.7"/>
<line x1="247.4" y1="233.5" x2="371.4" y2="233.5" stroke="#e4e3bf" stroke-width="0.7"/>
<line x1="259.8" y1="295.7" x2="259.8" y2="233.5" stroke="#e4e3bf" stroke-width="0.7"/>
<line x1="272.2" y1="295.7" x2="272.2" y2="233.5" stroke="#e4e3bf" stroke-width="0.7"/>
<line x1="284.6" y1="295.7" x2="284.6" y2="233.5" stroke="#e4e3bf" stroke-width="0.7"/>
<line x1="297" y1="295.7" x2="297" y2="233.5" stroke="#e4e3bf" stroke-width="0.7"/>
<line x1="309.4" y1="295.7" x2="309.4" y2="233.5" stroke="#e4e3bf" stroke-width="0.7"/>
<line x1="321.8" y1="295.7" x2="321.8" y2="233.5" stroke="#e4e3bf" stroke-width="0.7"/>
<line x1="334.2" y1="295.7" x2="334.2" y2="233.5" stroke="#e4e3bf" stroke-width="0.7"/>
<line x1="346.6" y1="295.7" x2="346.6" y2="233.5" stroke="#e4e3bf" stroke-width="0.7"/>
<line x1="359" y1="295.7" x2="359" y2="233.5" stroke="#e4e3bf" stroke-width="0.7"/>
<polygon points="136.1,425.9 247.4,295.7 371.4,295.7 316.1,425.9" fill="#f1f1f1"/>
<line x1="154.1" y1="425.9" x2="259.8" y2="295.7" stroke="#dedede" stroke-width="0.7"/>
<line x1="172.1" y1="425.9" x2="272.2" y2="295.7" stroke="#dedede" stroke-width="0.7"/>
<line x1="190.1" y1="425.9" x2="284.6" y2="295.7" stroke="#dedede" stroke-width="0.7"/>
<line x1="208.1" y1="425.9" x2="297" y2="295.7" stroke="#dedede" stroke-width="0.7"/>
<line x1="226.1" y1="425.9" x2="309.4" y2="295.7" stroke="#dedede" stroke-width="0.7"/>
<line x1="244.1" y1="425.9" x2="321.8" y2="295.7" stroke="#dedede" stroke-width="0.7"/>
<line x1="262.1" y1="425.9" x2="334.2" y2="295.7" stroke="#dedede" stroke-width="0.7"/>
<line x1="280.1" y1="425.9" x2="346.6" y2="295.7" stroke="#dedede" stroke-width="0.7"/>
<line x1="298.1" y1="425.9" x2="359" y2="295.7" stroke="#dedede" stroke-width="0.7"/>
<polygon points="145.9,414.4 321,414.4 325.2,404.6 154.3,404.6" fill="#fbfbfb"/>
<polygon points="164,393.2 330,393.2 333.7,384.4 171.6,384.4" fill="#fbfbfb"/>
<polygon points="180.3,374.2 338.1,374.2 341.5,366.2 187.2,366.2" fill="#fbfbfb"/>
<polygon points="195.1,356.9 345.4,356.9 348.5,349.6 201.3,349.6" fill="#fbfbfb"/>
<polygon points="208.6,341.2 352.1,341.2 354.9,334.5 214.2,334.5" fill="#fbfbfb"/>
<polygon points="220.9,326.8 358.2,326.8 360.8,320.7 226.1,320.7" fill="#fbfbfb"/>
<polygon points="232.1,313.6 363.8,313.6 366.2,308 236.9,308" fill="#fbfbfb"/>
<polygon points="242.5,301.5 369,301.5 371.2,296.3 246.9,296.3" fill="#fbfbfb"/>
<polygon points="136.1,425.9 136.1,335.6 247.4,233.5 247.4,295.7" fill="none" stroke="#333" stroke-width="0.8"/>
<polyline points="247.4,233.5 371.4,233.5 371.4,295.7" fill="none" stroke="#555" stroke-width="0.7"/>
<line x1="242.5" y1="301.5" x2="369" y2="301.5" stroke="#777" stroke-width="1"/>
<polygon points="262,301.5 262,301 262.5,299.5 263,298.2 263.5,296.8 264,295.2 264.5,295 265,295.2 265.5,295.1 266,295.4 266.5,295.4 267,295.2 267.5,294.7 268,295.1 268.5,295.1 269,295.1 269.5,295.8 270,295.4 270.5,296 271,296 271.5,296.1 272,296.5 272.5,296.7 273,297.1 273.5,297.3 274,297.3 274.5,296.8 275,297.3 275.5,297.1 276,297.6 276.5,297.2 277,297.2 277.5,296.9 278,297.4 278.5,297.5 279,297.3 279.5,297.2 280,297.6 280.5,297.1 281,297.1 281.5,297.2 282,297.1 282.5,297.1 283,297 283.5,296.8 284,296.5 284.5,296.3 285,296.7 285.5,296.9 286,296.2 286.5,296.2 287,296 287.5,296.3 288,296 288.5,296.1 289,295.2 289.5,295.1 290,295 290.5,294.9 291,294.8 291.5,294.6 292,294.9 292.5,294.3 293,294.2 293.5,294.4 294,293.9 294.5,293.6 295,293.7 295.5,293 296,292.6 296.5,293.3 297,292.9 297.5,292.8 298,292.3 298.5,292.8 299,292.4 299.5,292.5 300,292.1 300.5,292.6 301,292 301.5,291.9 302,292.4 302.5,291.7 303,291.7 303.5,291.8 304,292.2 304.5,291.4 305,291.4 305.5,291.9 306,291.2 306.5,291.6 307,292.1 307.5,292.1 308,292.3 308.5,291.8 309,292.6 309.5,292.2 310,292.7 310.5,292.5 311,293 311.5,292.7 312,292.6 312.5,292.6 313,293 313.5,292.7 314,292.9 314.5,293.6 315,293.5 315.5,293.8 316,293.3 316.5,293.5 317,293.5 317.5,293.1 318,293.2 318.5,293.8 319,293.5 319.5,293.3 320,293.4 320.5,293.5 321,293.6 321.5,293.2 322,292.7 322.5,293.4 323,292.7 323.5,292.7 324,292.6 324.5,292.9 325,292.9 325.5,292.7 326,292.7 326.5,292.4 327,292.9 327.5,292.6 328,292.4 328.5,292.8 329,292.9 329.5,292.8 330,292.8 330.5,292 331,292.3 331.5,292.3 332,292.1 332.5,292.5 333,292.6 333.5,291.9 334,292.2 334.5,292.6 335,292.5 335.5,292.1 336,291.8 336.5,292.1 337,292.1 337.5,292.4 338,291.8 338.5,291.9 339,292.5 339.5,291.6 340,292.1 340.5,291.6 341,292.2 341.5,291.9 342,292.4 342.5,291.8 343,292.3 343.5,291.8 344,291.6 344.5,291.6 345,291.6 345.5,291.9 346,292.4 346.5,291.9 347,292.2 347.5,291.6 348,292 348.5,292 349,291.6 349.5,292.1 350,292 350.5,291.8 351,292.2 351.5,292 352,291.5 352.5,291.4 353,291.3 353.5,291.4 354,291.7 354.5,292 355,291.9 355.5,291.8 356,291.1 356.5,291.6 357,291.5 357.5,291.2 358,291.6 358.5,291.2 359,290.8 359.5,290.8 360,290.7 360.5,291.1 361,291.1 361.5,291.3 362,290.5 362.5,290.5 363,291.3 363.5,290.6 364,290.6 364.5,291.1 364.9,290.4 365.4,291 365.9,291.1 366.4,290.8 366.9,290.8 367.4,290.2 367.9,290.8 368.4,290.7 368.9,290.9 369.4,290.6 369,290.6 369,301.5" fill="#000080" stroke="#000" stroke-width="0.5" stroke-linejoin="round"/>
<line x1="232.1" y1="313.6" x2="363.8" y2="313.6" stroke="#777" stroke-width="1"/>
<polygon points="252.4,313.6 252.4,312.4 252.8,302.2 253.2,292 253.6,288 254,283.7 254.5,281.8 255,279.9 255.5,279.2 256,278 256.6,280.4 257.2,283.3 257.8,287.6 258.4,291.6 258.9,294.6 259.4,297.5 260,299.3 260.5,301.9 261,302.9 261.5,304.3 262,304.6 262.5,304.7 263,306.1 263.5,305.9 264,306.2 264.5,306.7 265,305.8 265.5,306.6 266,306.5 266.5,307 267,307.5 267.5,306.5 268,306.2 268.5,305.2 269,304.6 269.5,304.5 270,304 270.5,303.1 271,303.4 271.5,302.6 272,302 272.5,301.5 273,302 273.5,301.7 274,301.4 274.5,300 275,299.4 275.5,300.6 276,300 276.5,301.7 277,301.8 277.5,301.6 278,302.2 278.5,302.9 279,302.5 279.5,303 280,303.8 280.5,303.9 281,303.9 281.5,303.4 282,303.8 282.5,304 283,303.9 283.5,305 284,305.1 284.5,305.7 285,305.1 285.5,305.7 286,305.1 286.5,305.2 287,304.8 287.5,305.1 288,305.9 288.5,305.2 289,304.5 289.5,305.1 290,304.8 290.5,305.5 291,305.4 291.5,305.3 292,306 292.5,305.7 293,304.7 293.5,304.5 294,305.5 294.5,305.2 295,305.3 295.5,305 296,304.2 296.5,304.8 297,305.3 297.5,304.9 298,304 298.5,304 299,305.1 299.5,304.5 300,303.9 300.5,304.6 301,304.9 301.5,304.7 302,304.3 302.5,304.5 303,303.4 303.5,303.9 304,304.3 304.5,303.5 305,303.2 305.5,304.2 306,303.9 306.5,302.8 307,302.8 307.5,303.4 308,304 308.5,303.4 309,303.7 309.5,302.5 310,303.1 310.5,302.5 311,302.6 311.5,302.3 312,302.7 312.5,302.1 313,302.9 313.5,302.9 314,303.2 314.5,303 315,301.9 315.5,303 316,302.5 316.5,303 317,302.3 317.5,301.6 318,302.5 318.5,301.7 319,302.8 319.5,302.1 320,302.6 320.5,302.1 321,301.9 321.5,302.5 322,302.6 322.5,302.3 323,302.1 323.5,302.4 324,303 324.5,302.3 325,302.3 325.5,302.9 326,303.2 326.5,302.4 327,302.8 327.5,303.9 328,302.9 328.5,303.8 329,303.1 329.5,302.9 330,303.6 330.5,304.2 331,304.1 331.5,303 332,304 332.5,303.9 333,303.7 333.5,304 334,303.8 334.5,303.3 335,304.1 335.5,303.3 336,303.6 336.5,304.4 337,304 337.5,303.9 338,304.2 338.5,303.9 339,303.8 339.5,304.1 340,303.3 340.5,303.8 341,303.3 341.5,304.7 342,304.5 342.5,304.1 343,303.4 343.5,304.4 344,303.5 344.5,304.3 345,304 345.5,303.9 346,304.1 346.5,303.4 347,304.2 347.5,303.8 348,304.1 348.5,304.2 349,303.3 349.5,303.5 350,303.4 350.5,302.9 351,304.1 351.5,303.8 352,303.5 352.5,303.6 353,304 353.5,302.8 354,303.2 354.5,303.7 355,303.4 355.5,303.4 356,303 356.5,302.9 357.1,303.5 357.6,303 358.1,303.9 358.6,303.8 359.1,303.9 359.6,302.8 360.1,303.2 360.6,302.5 361.1,302.9 361.6,302.5 362.1,303.1 362.6,303.7 363.1,303.4 363.6,303 363.8,303 363.8,313.6" fill="#808000" stroke="#000" stroke-width="0.5" stroke-linejoin="round"/>
<line x1="220.9" y1="326.8" x2="358.2" y2="326.8" stroke="#777" stroke-width="1"/>
<polygon points="268,326.8 268,325.6 268.5,325.1 269,324.5 269.5,325 270,324.4 270.5,324.4 271,325.1 271.5,323 272,324.3 272.5,320.8 273,323.4 273.5,323.3 274,322.3 274.5,322.1 275,324.6 275.5,324 276,323.7 276.5,323.8 277,323 277.5,321.4 278,321.7 278.5,323 279,323.3 279.5,318.2 280,321 280.5,322.5 281,321.6 281.5,320.8 282,320 282.5,320 283,320.4 283.5,316.8 284,318.7 284.5,318.2 285,318.4 285.5,319.2 286,319.1 286.5,318.8 287,318.2 287.5,315.9 288,318.1 288.5,316.8 289,317.8 289.5,317.4 290,317.3 290.5,317.2 291,317.7 291.5,317.2 292,318.2 292.5,318.5 293,316 293.5,314.6 294,317.4 294.5,317 295,314.6 295.5,318.3 296,319.1 296.5,317.6 297,318.3 297.5,316.1 298,319 298.5,315.1 299,318.4 299.5,316.4 300,315.4 300.5,317.3 301,318.1 301.5,317.6 302,316.9 302.5,317.7 303,316.2 303.5,315.4 304,314.2 304.5,311.7 305,315.6 305.5,314.5 306,314.3 306.5,314 307,315.1 307.5,313.3 308,314.8 308.5,312.6 309,315.7 309.5,314.7 310,315.1 310.5,312.8 311,315.7 311.5,314.1 312,310.5 312.5,313.9 313,309 313.5,314.6 314,313.5 314.5,308.7 315,311.3 315.5,309.7 316,313.1 316.5,314.5 317,308.2 317.5,312 318,309.9 318.5,310 319,309.8 319.5,310.3 320,310 320.5,311.9 321,313.3 321.5,311.9 322,312.8 322.5,312.3 323,310.1 323.5,313.4 324,310.6 324.5,312.2 325,312.9 325.5,311.1 326,312.4 326.5,313.4 327,308.1 327.5,310.1 328,307.6 328.5,313 329,312.9 329.5,314.8 330,313.2 330.5,312.9 331,311.8 331.5,315.7 332,314.2 332.5,310.2 333,316.2 333.5,313.3 334,316.4 334.5,315.3 335,315.2 335.5,315 336,317 336.5,315.1 337,315.4 337.5,315 338,311.6 338.5,314.8 339,317.6 339.5,311 340,314.9 340.5,314.8 341,317.9 341.5,314.9 342,314.3 342.5,314.5 343,315.3 343.5,316.7 344,315.9 344.5,317.1 345,314.2 345.5,315.2 346,317.9 346.5,317.4 347,315.3 347.5,315.7 348,316.5 348.5,314.8 349,314.8 349.5,318 350,315.8 350.5,314.3 351,311.8 351.5,314.8 352,312.6 352.5,314.4 353,315.6 353.5,316.2 354,313.9 354.5,318 355,314.9 355.5,312.3 356,315.3 356.5,316.4 357,314.2 357.5,316.1 358,316 358.2,316 358.2,326.8" fill="#ffff00" stroke="#000" stroke-width="0.5" stroke-linejoin="round"/>
<line x1="208.6" y1="341.2" x2="352.1" y2="341.2" stroke="#777" stroke-width="1"/>
<polygon points="242,341.2 242,340.4 242.5,339.9 243,338.9 243.5,337.9 244,339.1 244.5,335.4 245,337.4 245.5,337 246,337.3 246.5,331.2 247,335.5 247.5,337.8 248,333.6 248.5,336 249,333.8 249.5,337.1 250,337.1 250.5,337 251,335.6 251.5,333.5 252,335.6 252.5,334 253,331.9 253.5,328.5 254,330.4 254.5,333.9 255,331.7 255.5,329.5 256,326.6 256.5,332.6 257,331.3 257.5,328.6 258,330 258.5,327.9 259,327.9 259.5,317.2 260,326.7 260.5,327.5 261,328.7 261.5,327.5 262,328.2 262.5,330 263,330.5 263.5,327.3 264,324.9 264.5,328.5 265,329.4 265.5,331.3 266,325 266.5,329.1 267,332.1 267.5,329.2 268,329.6 268.5,331.7 269,330 269.5,329.8 270,333 270.5,326.5 271,332 271.5,329.9 272,331.7 272.5,334.1 273,328.8 273.5,332.8 274,333.8 274.5,332.9 275,334.4 275.5,333 276,332.8 276.5,333.7 277,332.9 277.5,332.2 278,332 278.5,332.7 279,334.5 279.5,332.1 280,331 280.5,334.2 281,333.8 281.5,327.7 282,331.9 282.5,332.1 283,333.6 283.5,331.3 284,328.6 284.5,330.8 285,330.6 285.5,331.5 286,332.4 286.5,330.1 287,332.5 287.5,330.9 288,328 288.5,331.9 289,329.9 289.5,331.1 290,330.1 290.5,329.9 291,331.9 291.5,330.9 292,329.6 292.5,329 293,332.3 293.5,330.2 294,328 294.5,328.3 295,331 295.5,329.7 296,331.6 296.5,330.3 297,329.6 297.5,327.6 298,328.7 298.5,329.6 299,331.5 299.5,325.5 300,326.4 300.5,332.2 301,330.5 301.5,332.3 302,330.4 302.5,327 303,329.9 303.5,329.7 304,329.3 304.5,331.9 305,328.6 305.5,331.1 306,323.8 306.5,330.4 307,325.8 307.5,329.4 308,330.5 308.5,330.1 309,328.1 309.5,330 310,324 310.5,330.6 311,328.4 311.5,330.7 312,326.7 312.5,327.2 313,327 313.5,330 314,327.3 314.5,325.2 315,331.1 315.5,326.4 316,328.6 316.5,330.8 317,330.8 317.5,326.9 318,321.6 318.5,326.6 319,328.4 319.5,322 320,324.7 320.5,327.3 321,325.3 321.5,327.9 322,325.6 322.5,326.7 323,328.2 323.5,326 324,327.1 324.5,324.6 325,328.7 325.5,326.3 326,327.4 326.5,325.2 327,324.1 327.5,322 328,324.3 328.5,322.6 329,322.7 329.5,326.3 330,325.5 330.5,323.6 331,321.7 331.5,324.3 332,318.8 332.5,323.9 333,321.8 333.5,325.2 334,324.4 334.5,324 335,323.1 335.5,320.4 336,322.5 336.5,323.6 337,324.8 337.5,326.5 338,324.8 338.5,325.5 339,323.2 339.5,325 340,326.2 340.5,328.5 341,328.6 341.5,326.9 342,325.6 342.5,327.2 343,329.4 343.5,328.6 344,326.3 344.5,320.4 345,325.1 345.5,326.4 346,323.5 346.5,326.3 347,329.1 347.5,326.4 348,329.1 348.5,331.3 349,330.8 349.5,330.7 350,329.5 350.5,327.9 351,327.6 351.5,329.7 352,330 352.1,330 352.1,341.2" fill="#ff00ff" stroke="#000" stroke-width="0.5" stroke-linejoin="round"/>
<line x1="195.1" y1="356.9" x2="345.4" y2="356.9" stroke="#777" stroke-width="1"/>
<polygon points="219,356.9 219,356 219.5,355.2 220,354.4 220.5,353.3 221,354.6 221.5,354.5 222,354.3 222.5,353.3 223,352.7 223.5,354.4 224,353.3 224.5,352.2 225,353.7 225.5,352.2 226,352 226.5,353.6 227,354.1 227.5,352.2 228,352.2 228.5,353.1 229,353.5 229.5,352.4 230,353 230.5,351.9 231,352.6 231.5,353.1 232,352.9 232.5,353.8 233,350.6 233.5,351.6 234,353.6 234.5,353.7 235,353.1 235.5,350.5 236,351.4 236.5,351.9 237,353.3 237.5,353 238,352.2 238.5,352.2 239,353 239.5,351.8 240,350.3 240.5,352.9 241,353.4 241.5,351.7 242,351.3 242.5,351.9 243,351.8 243.5,352.1 244,350.9 244.5,352.3 245,351.3 245.5,350.1 246,351.1 246.5,350.1 247,347.6 247.5,350 248,350 248.5,350.3 249,350.1 249.5,348 250,347.6 250.5,348.2 251,347.6 251.5,346.6 252,344.9 252.5,345.7 253,344.6 253.5,345.1 254,344.4 254.5,343.2 255,343 255.5,341.9 256,341.7 256.5,340.7 257,341 257.5,339.6 258,338.4 258.5,339.7 259,337.9 259.5,338.9 260,338.8 260.5,339.4 261,340.6 261.5,341.1 262,339.9 262.5,341.1 263,342.3 263.5,342.4 264,341.1 264.5,342 265,342.3 265.5,341.8 266,342.4 266.5,343.7 267,342.3 267.5,342.6 268,343.8 268.5,342.4 269,342.8 269.5,344.4 270,342.6 270.5,342.7 271,343.3 271.5,344.9 272,343.6 272.5,342.9 273,344.7 273.5,341.6 274,344.4 274.5,343 275,343 275.5,344.6 276,343.1 276.5,345 277,343.9 277.5,344.7 278,344 278.5,345.1 279,344.2 279.5,344.7 280,344.4 280.5,344.3 281,344.9 281.5,344.8 282,345 282.5,345.2 283,343.9 283.5,343.4 284,344.4 284.5,344 285,345.1 285.5,345 286,344.2 286.5,345.1 287,344.9 287.5,344.8 288,344.9 288.5,345.2 289,345.3 289.5,345.2 290,345.5 290.5,345.4 291,344.9 291.5,344.7 292,344.8 292.5,345.2 293,345.4 293.5,345.5 294,344.8 294.5,345.7 295,345 295.5,345.3 296,345.3 296.5,346 297,346 297.5,345.1 298,345.3 298.5,345.6 299,345.3 299.5,345.4 300,345.6 300.5,346.2 301,345 301.5,345.7 302,346 302.5,345.5 303,345.5 303.5,346.1 304,345.6 304.5,345.5 305,345.2 305.5,346.1 306,345.9 306.5,346 307,345.6 307.5,345.4 308,346.2 308.5,345.7 309,345.1 309.5,345.4 310,345.6 310.5,346.1 311,346.1 311.5,344.9 312,345.9 312.5,346.1 313,345.5 313.5,346 314,346.4 314.5,345.4 315,345.8 315.5,345.5 316,345.7 316.5,345.1 317,346 317.5,345.6 318,345.8 318.5,345.8 319,345 319.5,346.2 320,345.4 320.5,345.9 321,345.2 321.5,346.5 322,346.4 322.5,346.2 323,346.3 323.5,346 324,345.9 324.5,346.4 325,346 325.5,345.8 326,346.2 326.5,346 327,346.2 327.5,345.9 328,346.5 328.5,346 329,346.2 329.5,346.8 330,346.3 330.5,345.9 331,346.3 331.5,345.6 332,345.6 332.5,345.1 333,345.5 333.5,345.6 334,344.9 334.5,344.3 335,345.2 335.5,344.1 336,344.8 336.5,344.7 337,344.6 337.5,344.7 338,343.8 338.5,344.1 339,344.4 339.5,344.4 340,343.9 340.5,343 341,342.6 341.5,343.9 342.1,344.3 342.6,344.1 343.1,343 343.6,342.8 344.1,342.9 344.6,343.5 345.1,342.4 345.6,343.6 345.4,343.6 345.4,356.9" fill="#00ffff" stroke="#000" stroke-width="0.5" stroke-linejoin="round"/>
<line x1="180.3" y1="374.2" x2="338.1" y2="374.2" stroke="#777" stroke-width="1"/>
<polygon points="205,374.2 205,373 205.5,365.9 206,358.8 206.5,351.7 207,345.4 207.5,338.1 208,331.6 208.5,325.8 209,318.4 209.5,324.9 210,330.2 210.5,335 211,339.3 211.5,344 212,349.6 212.5,350.3 213,355.4 213.5,347.1 214,358.3 214.5,359.8 215,363.6 215.5,363.3 216,361.5 216.5,362.5 217,363.1 217.5,366.9 218,364.6 218.5,367.7 219,365.3 219.5,367.5 220,358.7 220.5,366.7 221,366.1 221.5,366.7 222,366 222.5,366.9 223,363.4 223.5,364.1 224,366.1 224.5,367.5 225,368.5 225.5,361.9 226,364 226.5,365.9 227,367.8 227.5,367.3 228,366.4 228.5,359.3 229,366.3 229.5,366.5 230,366.9 230.5,366.1 231,368.3 231.5,366.9 232,366.9 232.5,367.5 233,362 233.5,361.7 234,367.5 234.5,368.6 235,354.1 235.5,360.9 236,362.5 236.5,366.6 237,365.5 237.5,365.7 238,365.3 238.5,360.4 239,366 239.5,362.7 240,366.7 240.5,365.5 241,365.6 241.5,368 242,367.7 242.5,366.1 243,365.9 243.5,365.4 244,364.5 244.5,365.7 245,361.6 245.5,364.4 246,366.5 246.5,367.5 247,367.5 247.5,365.2 248,364.3 248.5,366 249,365.3 249.5,363.8 250,363.4 250.5,362.7 251,362.7 251.5,366.3 252,365.2 252.5,365 253,365.3 253.5,364 254,364.6 254.5,354.2 255,364.2 255.5,365.2 256,364 256.5,365.8 257,364.9 257.5,365.4 258,366.8 258.5,364.2 259,366.1 259.5,364.8 260,360.8 260.5,364.7 261,364.4 261.5,365.4 262,361.8 262.5,357.4 263,364.9 263.5,362.3 264,361.4 264.5,365 265,364.7 265.5,365 266,367 266.5,364.5 267,365.6 267.5,364.5 268,364.7 268.5,365.2 269,366.1 269.5,367.3 270,365.5 270.5,366.9 271,364.7 271.5,366.8 272,365.6 272.5,366.5 273,361.6 273.5,365.3 274,365.5 274.5,366 275,365.4 275.5,365.6 276,361.8 276.5,364.9 277,363.3 277.5,364 278,364.2 278.5,364.3 279,362.1 279.5,362.1 280,363.2 280.5,363.2 281,362.9 281.5,361.6 282,359.3 282.5,361.7 283,362.8 283.5,360.9 284,362.6 284.5,361.9 285,362.2 285.5,361 286,359.2 286.5,361.8 287,359.9 287.5,359.9 288,361 288.5,358.2 289,359.6 289.5,360.2 290,359.2 290.5,360.4 291,359.2 291.5,359.5 292,360 292.5,360.4 293,359.3 293.5,358.6 294,358.9 294.5,356.9 295,358.5 295.5,358.3 296,359.2 296.5,356.6 297,357.8 297.5,358.6 298,359 298.5,358.9 299,356.1 299.5,358.4 300,358 300.5,358.8 301,357.5 301.5,358.6 302,359.1 302.5,357.6 303,358.3 303.5,358.9 304,358.6 304.5,359 305,358.9 305.5,358.4 306,358.1 306.5,359.4 307,357 307.5,359.2 308,359.6 308.5,359.2 309,357.8 309.5,359.4 310,358.4 310.5,359.8 311,358.5 311.5,358.8 312,359.3 312.5,360.2 313,359.5 313.5,359.4 314,360.1 314.5,360.1 315,360.6 315.5,360.5 316,360.6 316.5,359.7 317,358.3 317.5,360.5 318,360.7 318.5,359 319,360.8 319.5,361.5 320,360.7 320.5,361.1 321,360.7 321.5,360.4 322,360.1 322.5,359.5 323,359.7 323.5,358.8 324,357.7 324.5,358.7 325,358.1 325.5,357.7 326,357.2 326.5,356 327,356.5 327.5,355.9 328,356.2 328.5,355.3 329,355.3 329.5,355.6 330,353.9 330.5,355 331,352.7 331.5,354.3 332,352.7 332.5,354.2 333,354.3 333.5,352.3 334,354.7 334.5,354.7 335,353.2 335.5,353.5 336,353.1 336.5,353.9 337,353.6 337.5,351.7 338,354 338.1,354 338.1,374.2" fill="#0000ff" stroke="#000" stroke-width="0.5" stroke-linejoin="round"/>
<line x1="164" y1="393.2" x2="330" y2="393.2" stroke="#777" stroke-width="1"/>
<polygon points="189.6,393.2 189.6,392.4 190.1,389.2 190.6,385.7 191,382.8 191.5,379.5 192,375.6 192.5,371.4 193,366.3 193.4,361.3 193.9,356.1 194.4,351.7 194.9,358.3 195.5,363.7 196,370.4 196.5,371.5 197,370.7 197.5,372 198,374.4 198.5,375.7 199,376.5 199.5,379.4 200,379.4 200.5,379.3 201,382.4 201.5,383.4 202,383.2 202.5,384.3 203,381.6 203.5,383.5 204,382.8 204.5,385.8 205,383.9 205.5,382 206,383.9 206.5,382.4 207,383.8 207.5,382.1 208,381.1 208.5,380 209,379.8 209.5,377.6 210,378.8 210.5,378.9 211,375.7 211.5,377.5 212,376.5 212.5,373.4 213,374.6 213.5,374.7 214,374.3 214.5,371.1 215,372.1 215.5,369.9 216,372.1 216.5,372.4 217,374.8 217.5,375.5 218,375.3 218.5,375.8 219,373.8 219.5,376 220,376.5 220.5,376.6 221,377.8 221.5,379.1 222,376.3 222.5,379.3 223,378.2 223.5,379.2 224,380.3 224.5,381 225,379.3 225.5,380.3 226,380.2 226.5,379.7 227,379.7 227.5,382.5 228,382.6 228.5,382.9 229,381 229.5,382.1 230,382.9 230.5,383.3 231,380.9 231.5,382.9 232,382.9 232.5,381.7 233,377.5 233.5,382.8 234,380.5 234.5,380.9 235,382.3 235.5,381.5 236,378.8 236.5,379.7 237,377.6 237.5,380 238,379.1 238.5,378.7 239,380.6 239.5,379.2 240,381.6 240.5,381.4 241,379.4 241.5,379.5 242,378.6 242.5,379.5 243,381.2 243.5,377.9 244,379.3 244.5,379.7 245,378.7 245.5,380.7 246,379.4 246.5,379.6 247,379.6 247.5,378.6 248,378.4 248.5,377.5 249,377.7 249.5,378 250,378.3 250.5,378.7 251,378.4 251.5,379.8 252,378.8 252.5,377.5 253,377 253.5,377.1 254,378.8 254.5,378.7 255,378.1 255.5,378.3 256,378.7 256.5,377.6 257,377.9 257.5,379.5 258,379 258.5,380.2 259,378.1 259.5,377.7 260,379.8 260.5,378 261,380.5 261.5,378.7 262,378.2 262.5,377.6 263,379.2 263.5,378.6 264,379.6 264.5,378.6 265,379.1 265.5,380 266,378.8 266.5,378.4 267,379 267.5,380 268,378.3 268.5,379.2 269,376.4 269.5,377.8 270,377.2 270.5,376.4 271,377.8 271.5,376.2 272,378.2 272.5,377.9 273,374.6 273.5,378.8 274,377.2 274.5,376 275,378 275.5,375.7 276,377.7 276.5,376.8 277,376.4 277.5,378.7 278,376.2 278.5,377.4 279,376.3 279.5,378.2 280,376.7 280.5,379.8 281,379.7 281.5,378.3 282,379.1 282.5,375.7 283,379.7 283.5,379.2 284,378.2 284.5,378.7 285,380.7 285.5,379.5 286,379.4 286.5,381.5 287,381.6 287.5,380 288,381.3 288.5,381.4 289,379.3 289.5,379.9 290,376.5 290.5,381.6 291,380 291.5,380.6 292,379.4 292.5,379.5 293,380.5 293.5,379.1 294,380.9 294.5,379.6 295,381.1 295.5,379.1 296,379.6 296.5,380.8 297,379.8 297.5,380.1 298,378.6 298.5,380.9 299,380.9 299.5,380.6 300,379 300.5,379.8 301,379.2 301.5,378.6 302,379.5 302.5,379.3 303,380.5 303.5,378.6 304,380.3 304.5,380.4 305,380.6 305.5,380.3 306,379.3 306.5,381 307,381.5 307.5,379.9 308,380.6 308.5,381.3 309,379.4 309.5,378.3 310,379.5 310.5,378.3 311,381 311.5,380.5 312,380.2 312.5,378.8 313,379.9 313.5,379.6 314,380.9 314.5,379 315,375.9 315.5,379.3 316,378.5 316.5,378.5 317,379.7 317.5,378.4 318,380 318.5,378 319,379.2 319.5,378.9 320,380.8 320.5,379.1 321,377.1 321.5,378.4 322,378.2 322.5,378.7 323,380.1 323.5,378.2 324,379.6 324.5,378 325,380.5 325.5,379.3 326,378.6 326.5,379.8 327,378.9 327.5,377.8 328,377 328.5,379.7 329,379 329.5,378.8 330,379 330,379 330,393.2" fill="#00ff00" stroke="#000" stroke-width="0.5" stroke-linejoin="round"/>
<line x1="145.9" y1="414.4" x2="321" y2="414.4" stroke="#777" stroke-width="1"/>
<polygon points="171.6,414.4 171.6,413.6 172.1,400.6 172.5,387.5 173.1,375.6 173.6,364 174.2,352 174.6,349.2 175,346.9 175.6,344.2 176.1,339.8 176.7,337.1 177.2,343.3 177.8,348.7 178.3,356 178.8,363.5 179.3,369.7 179.8,376.8 180.3,381.6 180.8,386.5 181.2,391.2 181.8,394.1 182.3,397.4 182.8,398.8 183.3,402.9 183.8,402.7 184.4,403.8 184.9,405.7 185.5,407.4 186,408.2 186.5,407.2 187.1,406.6 187.6,407.2 188.1,407.2 188.7,409.9 189.2,408.7 189.7,408.4 190.2,409.9 190.7,407.6 191.2,408.9 191.8,407.1 192.3,404.9 192.8,406.9 193.3,407.1 193.8,404.2 194.3,405.8 194.9,404.7 195.4,404.5 195.9,403.5 196.4,402.9 196.9,403.2 197.5,402.8 198,402.7 198.5,403.8 199,403.8 199.6,402.1 200.1,400.9 200.6,400.8 201.1,400 201.6,399.3 202.2,399.5 202.7,398.6 203.2,399.2 203.8,397.3 204.3,397.8 204.8,398.3 205.3,397.6 205.8,398.9 206.4,398.8 206.9,397 207.4,396.7 207.9,397.5 208.4,396.3 208.9,399.5 209.4,399.8 210,400 210.5,399.4 211,400.1 211.5,400 212,402.1 212.5,400.8 213,400.2 213.5,400.3 214,399.8 214.5,401.7 215,402.1 215.5,400.4 216,401.2 216.5,401.5 217,400 217.5,401.6 218,400.8 218.5,400.6 219,401.1 219.5,399.8 220,400.9 220.5,401 221,399.5 221.5,400.8 222,402.2 222.5,401.9 223,399.4 223.5,400 224,399.5 224.5,400.6 225,399.5 225.5,401.2 226,401.8 226.5,399.9 227,400.6 227.5,399.8 228,401.1 228.5,399.8 229,400.5 229.5,398.6 230,399.7 230.5,397.8 231,400.9 231.5,399.6 232,400.7 232.5,398.3 233,398.4 233.5,399.6 234,400.1 234.5,399.2 235,398.9 235.5,401 236,398.9 236.5,398.7 237,399.5 237.5,398.9 238,398.9 238.5,400.9 239,400.2 239.5,401 240,398.7 240.5,399 241,399.3 241.5,400.8 242,398.9 242.5,401.7 243,401 243.5,401.1 244,402.2 244.5,401.2 245,401.6 245.5,402.2 246,399.2 246.5,400.1 247,400.7 247.5,402 248,399.9 248.5,402.3 249,402.1 249.5,403.1 250,402.3 250.5,402.6 251,400.5 251.5,402.7 252,400 252.5,402.2 253,402.6 253.5,400.4 254,400.1 254.5,399.7 255,400.1 255.5,402.4 256,400.6 256.5,401.9 257,401.3 257.5,400.5 258,400.7 258.5,399.3 259,401 259.5,401.1 260,399.7 260.5,401.4 261,401 261.5,401.2 262,400.4 262.5,401 263,400.8 263.5,398.8 264,401.2 264.5,398.4 265,398.9 265.5,398.7 266,398.7 266.5,399.7 267,398.9 267.5,398.3 268,398.8 268.5,399 269,398 269.5,399.8 270,398.5 270.5,397 271,399.8 271.5,397.9 272,397.8 272.5,396 273,398.3 273.5,398.2 274,399.5 274.5,397.2 275,400 275.5,397.1 276,400 276.5,397.8 277,397 277.5,399.2 278,396.9 278.5,399.1 279,397.3 279.5,396.3 280,396.6 280.5,398.3 281,394.9 281.5,396.5 282,396.6 282.5,398 283,399.4 283.5,397.3 284,399.1 284.5,399.6 285,398.7 285.5,399 286,398.1 286.5,399 287,397.6 287.5,399 288,399.4 288.5,397.7 289,398.8 289.5,398.5 290,399.2 290.5,399.1 291,395.8 291.5,399.6 292,399.8 292.5,399.5 293,399 293.5,397.7 294,396.6 294.5,398.2 295,399.8 295.5,400 296,397.9 296.5,397.5 297,397.9 297.5,399.8 298,400 298.5,400 299,398.5 299.5,399.1 300,396.3 300.5,399.7 301,399.1 301.5,399 302,397.3 302.5,398.7 303,399.9 303.5,398.5 304,399.8 304.5,398.4 305,398.9 305.5,399.4 306,399 306.5,398.2 307,396 307.5,399.2 308,398.9 308.5,398.2 309,398.8 309.5,399.7 310,400.5 310.5,398.8 311,397.8 311.5,398.6 312,400.1 312.5,399.7 313,398.3 313.5,400.3 314,398.8 314.5,400.7 315,400 315.5,396.9 316,398.4 316.5,399.6 317,400.6 317.5,401.4 318,398.7 318.5,399 319,400.5 319.5,399.1 320,399.7 320.5,399.6 321,400.6 321,400.6 321,414.4" fill="#ff0000" stroke="#000" stroke-width="0.5" stroke-linejoin="round"/>
<line x1="136.1" y1="426.5" x2="136.1" y2="335.6" stroke="#000" stroke-width="1.3"/>
<line x1="132.6" y1="425.9" x2="136.1" y2="425.9" stroke="#000" stroke-width="1.2"/>
<text x="130.8" y="429.8" text-anchor="end" class="tk">0.0</text>
<line x1="132.6" y1="410.8" x2="136.1" y2="410.8" stroke="#000" stroke-width="1.2"/>
<text x="130.8" y="414.7" text-anchor="end" class="tk">1.0</text>
<line x1="132.6" y1="395.8" x2="136.1" y2="395.8" stroke="#000" stroke-width="1.2"/>
<text x="130.8" y="399.7" text-anchor="end" class="tk">2.0</text>
<line x1="132.6" y1="380.8" x2="136.1" y2="380.8" stroke="#000" stroke-width="1.2"/>
<text x="130.8" y="384.6" text-anchor="end" class="tk">3.0</text>
<line x1="132.6" y1="365.7" x2="136.1" y2="365.7" stroke="#000" stroke-width="1.2"/>
<text x="130.8" y="369.6" text-anchor="end" class="tk">4.0</text>
<line x1="132.6" y1="350.6" x2="136.1" y2="350.6" stroke="#000" stroke-width="1.2"/>
<text x="130.8" y="354.5" text-anchor="end" class="tk">5.0</text>
<line x1="132.6" y1="335.6" x2="136.1" y2="335.6" stroke="#000" stroke-width="1.2"/>
<text x="130.8" y="339.5" text-anchor="end" class="tk">6.0</text>
<line x1="135.5" y1="425.9" x2="316.7" y2="425.9" stroke="#000" stroke-width="1.3"/>
<line x1="136.1" y1="425.9" x2="136.1" y2="429.4" stroke="#000" stroke-width="1.2"/>
<text x="136.1" y="439.7" text-anchor="middle" class="tk">0</text>
<line x1="154.1" y1="425.9" x2="154.1" y2="429.4" stroke="#000" stroke-width="1.2"/>
<text x="154.1" y="439.7" text-anchor="middle" class="tk">1</text>
<line x1="172.1" y1="425.9" x2="172.1" y2="429.4" stroke="#000" stroke-width="1.2"/>
<text x="172.1" y="439.7" text-anchor="middle" class="tk">2</text>
<line x1="190.1" y1="425.9" x2="190.1" y2="429.4" stroke="#000" stroke-width="1.2"/>
<text x="190.1" y="439.7" text-anchor="middle" class="tk">3</text>
<line x1="208.1" y1="425.9" x2="208.1" y2="429.4" stroke="#000" stroke-width="1.2"/>
<text x="208.1" y="439.7" text-anchor="middle" class="tk">4</text>
<line x1="226.1" y1="425.9" x2="226.1" y2="429.4" stroke="#000" stroke-width="1.2"/>
<text x="226.1" y="439.7" text-anchor="middle" class="tk">5</text>
<line x1="244.1" y1="425.9" x2="244.1" y2="429.4" stroke="#000" stroke-width="1.2"/>
<text x="244.1" y="439.7" text-anchor="middle" class="tk">6</text>
<line x1="262.1" y1="425.9" x2="262.1" y2="429.4" stroke="#000" stroke-width="1.2"/>
<text x="262.1" y="439.7" text-anchor="middle" class="tk">7</text>
<line x1="280.1" y1="425.9" x2="280.1" y2="429.4" stroke="#000" stroke-width="1.2"/>
<text x="280.1" y="439.7" text-anchor="middle" class="tk">8</text>
<line x1="298.1" y1="425.9" x2="298.1" y2="429.4" stroke="#000" stroke-width="1.2"/>
<text x="298.1" y="439.7" text-anchor="middle" class="tk">9</text>
<line x1="316.1" y1="425.9" x2="316.1" y2="429.4" stroke="#000" stroke-width="1.2"/>
<text x="316.1" y="439.7" text-anchor="middle" class="tk">10</text>
<line x1="316.1" y1="425.9" x2="371.4" y2="295.7" stroke="#000" stroke-width="1.3"/>
<line x1="321" y1="414.4" x2="324.2" y2="414.4" stroke="#000" stroke-width="1.1"/>
<text x="325.6" y="417.8" class="tk" style="font-size:8.6px;stroke-width:0.2px">A</text>
<line x1="330" y1="393.2" x2="333.2" y2="393.2" stroke="#000" stroke-width="1.1"/>
<text x="334.6" y="396.5" class="tk" style="font-size:8.4px;stroke-width:0.2px">B</text>
<line x1="338.1" y1="374.2" x2="341.3" y2="374.2" stroke="#000" stroke-width="1.1"/>
<text x="342.7" y="377.4" class="tk" style="font-size:8.2px;stroke-width:0.3px">C</text>
<line x1="345.4" y1="356.9" x2="348.6" y2="356.9" stroke="#000" stroke-width="1.1"/>
<text x="350" y="360" class="tk" style="font-size:7.8px;stroke-width:0.3px">D</text>
<line x1="352.1" y1="341.2" x2="355.3" y2="341.2" stroke="#000" stroke-width="1.1"/>
<text x="356.7" y="344.2" class="tk" style="font-size:7.6px;stroke-width:0.3px">E</text>
<line x1="358.2" y1="326.8" x2="361.4" y2="326.8" stroke="#000" stroke-width="1.1"/>
<text x="362.8" y="329.7" class="tk" style="font-size:7.4px;stroke-width:0.3px">F</text>
<line x1="363.8" y1="313.6" x2="367" y2="313.6" stroke="#000" stroke-width="1.1"/>
<text x="368.4" y="316.4" class="tk" style="font-size:7.2px;stroke-width:0.4px">G</text>
<line x1="369" y1="301.5" x2="372.2" y2="301.5" stroke="#000" stroke-width="1.1"/>
<text x="373.6" y="304.2" class="tk" style="font-size:6.8px;stroke-width:0.4px">H</text>
<text transform="translate(115.6,380.7) rotate(-90)" text-anchor="middle" class="al" style="font-size:10.5px">g(r)</text>
<text x="225.6" y="451.1" text-anchor="middle" class="al">r(Å)</text>
<text transform="translate(368.6,351.6) rotate(-68.5) scale(0.72,1)" text-anchor="middle" class="zl">Rutin/DM-β-CD</text>
<text x="167.5" y="255.3" text-anchor="middle" class="tt">(c)</text>
</svg>
</body></html>
